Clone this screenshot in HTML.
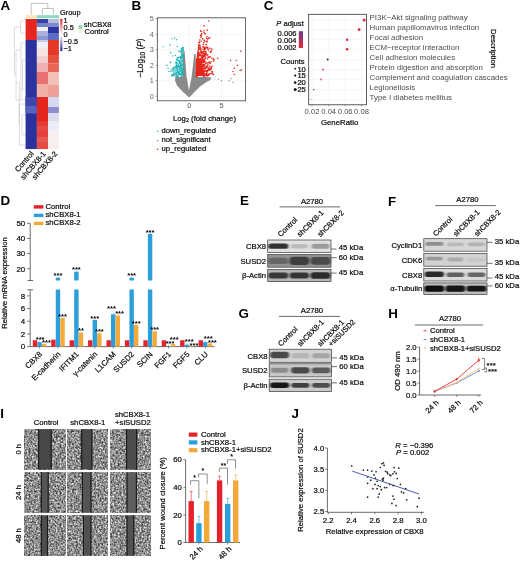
<!DOCTYPE html>
<html><head><meta charset="utf-8"><title>Figure</title>
<style>
html,body{margin:0;padding:0;background:#fff;}
svg{display:block;font-family:"Liberation Sans",Arial,Helvetica,sans-serif;}
</style></head><body>
<svg width="520" height="561" viewBox="0 0 520 561">
<rect width="520" height="561" fill="#fff"/>
<text x="0.6" y="10.4" font-size="13.4" fill="#000" font-weight="bold">A</text>
<polyline points="31.2,14.6 31.2,3.4 47.8,3.4 47.8,8.5" fill="none" stroke="#9a9a9a" stroke-width="0.6"/>
<polyline points="42.4,14.6 42.4,8.5 53.4,8.5 53.4,14.6" fill="none" stroke="#9a9a9a" stroke-width="0.6"/>
<rect x="25.6" y="15.2" width="11.2" height="3" fill="#fbe8b4"/>
<rect x="36.8" y="15.2" width="22.1" height="3" fill="#8fd7bd"/>
<rect x="25.6" y="19" width="11.3" height="21.05" fill="#e5251f"/>
<rect x="25.6" y="40" width="11.3" height="109.05" fill="#2a319c"/>
<rect x="36.8" y="19" width="11.3" height="4.05" fill="#3842a6"/>
<rect x="36.8" y="23" width="11.3" height="4.05" fill="#7482c9"/>
<rect x="36.8" y="27" width="11.3" height="4.05" fill="#f3f2f8"/>
<rect x="36.8" y="31" width="11.3" height="5.05" fill="#a9b0dc"/>
<rect x="36.8" y="36" width="11.3" height="4.05" fill="#8c97d1"/>
<rect x="36.8" y="40" width="11.3" height="2.05" fill="#c8cbe8"/>
<rect x="36.8" y="42" width="11.3" height="6.05" fill="#f3f0f5"/>
<rect x="36.8" y="48" width="11.3" height="8.05" fill="#f6e4e4"/>
<rect x="36.8" y="56" width="11.3" height="7.05" fill="#f2cfcf"/>
<rect x="36.8" y="63" width="11.3" height="9.05" fill="#eeb0b0"/>
<rect x="36.8" y="72" width="11.3" height="12.05" fill="#e87272"/>
<rect x="36.8" y="84" width="11.3" height="13.05" fill="#f0b0a8"/>
<rect x="36.8" y="97" width="11.3" height="24.05" fill="#e4261f"/>
<rect x="36.8" y="121" width="11.3" height="5.05" fill="#e53a33"/>
<rect x="36.8" y="126" width="11.3" height="5.05" fill="#e64a44"/>
<rect x="36.8" y="131" width="11.3" height="6.05" fill="#e5413a"/>
<rect x="36.8" y="137" width="11.3" height="5.05" fill="#e65a55"/>
<rect x="36.8" y="142" width="11.3" height="7.05" fill="#e54a44"/>
<rect x="48" y="19" width="10.9" height="4.05" fill="#b9bce1"/>
<rect x="48" y="23" width="10.9" height="4.05" fill="#8088c9"/>
<rect x="48" y="27" width="10.9" height="6.05" fill="#2c36a1"/>
<rect x="48" y="33" width="10.9" height="7.05" fill="#5c6cc1"/>
<rect x="48" y="40" width="10.9" height="15.05" fill="#e53828"/>
<rect x="48" y="55" width="10.9" height="8.55" fill="#e65040"/>
<rect x="48" y="63.5" width="10.9" height="8.55" fill="#e86858"/>
<rect x="48" y="72" width="10.9" height="13.05" fill="#f3c0b8"/>
<rect x="48" y="85" width="10.9" height="12.05" fill="#eca098"/>
<rect x="48" y="97" width="10.9" height="10.05" fill="#d6d8f0"/>
<rect x="48" y="107" width="10.9" height="6.05" fill="#8e8ecc"/>
<rect x="48" y="113" width="10.9" height="8.05" fill="#dcdcf0"/>
<rect x="48" y="121" width="10.9" height="9.05" fill="#ececf6"/>
<rect x="48" y="130" width="10.9" height="10.05" fill="#f6f0f2"/>
<rect x="48" y="140" width="10.9" height="9.05" fill="#f8eeee"/>
<rect x="25.6" y="41" width="11.3" height="1.4" fill="#3038a4" opacity="0.5"/>
<rect x="25.6" y="44.2" width="11.3" height="1.4" fill="#3038a4" opacity="0.5"/>
<rect x="25.6" y="47.4" width="11.3" height="1.4" fill="#3038a4" opacity="0.5"/>
<rect x="25.6" y="50.6" width="11.3" height="1.4" fill="#3038a4" opacity="0.5"/>
<rect x="25.6" y="53.8" width="11.3" height="1.4" fill="#3038a4" opacity="0.5"/>
<rect x="25.6" y="57" width="11.3" height="1.4" fill="#3038a4" opacity="0.5"/>
<rect x="25.6" y="60.2" width="11.3" height="1.4" fill="#3038a4" opacity="0.5"/>
<rect x="25.6" y="63.4" width="11.3" height="1.4" fill="#3038a4" opacity="0.5"/>
<rect x="25.6" y="66.6" width="11.3" height="1.4" fill="#3038a4" opacity="0.5"/>
<rect x="25.6" y="69.8" width="11.3" height="1.4" fill="#3038a4" opacity="0.5"/>
<rect x="25.6" y="73" width="11.3" height="1.4" fill="#3038a4" opacity="0.5"/>
<rect x="25.6" y="76.2" width="11.3" height="1.4" fill="#3038a4" opacity="0.5"/>
<rect x="25.6" y="79.4" width="11.3" height="1.4" fill="#3038a4" opacity="0.5"/>
<rect x="25.6" y="82.6" width="11.3" height="1.4" fill="#3038a4" opacity="0.5"/>
<rect x="25.6" y="85.8" width="11.3" height="1.4" fill="#3038a4" opacity="0.5"/>
<rect x="25.6" y="89" width="11.3" height="1.4" fill="#3038a4" opacity="0.5"/>
<rect x="25.6" y="92.2" width="11.3" height="1.4" fill="#3038a4" opacity="0.5"/>
<rect x="25.6" y="95.4" width="11.3" height="1.4" fill="#3038a4" opacity="0.5"/>
<rect x="25.6" y="98.6" width="11.3" height="1.4" fill="#3038a4" opacity="0.5"/>
<rect x="25.6" y="101.8" width="11.3" height="1.4" fill="#3038a4" opacity="0.5"/>
<rect x="25.6" y="105" width="11.3" height="1.4" fill="#3038a4" opacity="0.5"/>
<rect x="25.6" y="108.2" width="11.3" height="1.4" fill="#3038a4" opacity="0.5"/>
<rect x="25.6" y="111.4" width="11.3" height="1.4" fill="#3038a4" opacity="0.5"/>
<rect x="25.6" y="114.6" width="11.3" height="1.4" fill="#3038a4" opacity="0.5"/>
<rect x="25.6" y="117.8" width="11.3" height="1.4" fill="#3038a4" opacity="0.5"/>
<rect x="25.6" y="121" width="11.3" height="1.4" fill="#3038a4" opacity="0.5"/>
<rect x="25.6" y="124.2" width="11.3" height="1.4" fill="#3038a4" opacity="0.5"/>
<rect x="25.6" y="127.4" width="11.3" height="1.4" fill="#3038a4" opacity="0.5"/>
<rect x="25.6" y="130.6" width="11.3" height="1.4" fill="#3038a4" opacity="0.5"/>
<rect x="25.6" y="133.8" width="11.3" height="1.4" fill="#3038a4" opacity="0.5"/>
<rect x="25.6" y="137" width="11.3" height="1.4" fill="#3038a4" opacity="0.5"/>
<rect x="25.6" y="140.2" width="11.3" height="1.4" fill="#3038a4" opacity="0.5"/>
<rect x="25.6" y="143.4" width="11.3" height="1.4" fill="#3038a4" opacity="0.5"/>
<rect x="25.6" y="146.6" width="11.3" height="1.4" fill="#3038a4" opacity="0.5"/>
<rect x="25.4" y="97" width="11.5" height="9" fill="#3d47ac"/>
<rect x="25.4" y="106" width="11.5" height="7.5" fill="#5663bc"/>
<polyline points="25,21 20.5,21 20.5,33 25,33" fill="none" stroke="#b8b8b8" stroke-width="0.5"/>
<polyline points="20.5,27 14.4,27 14.4,74.4 16,74.4" fill="none" stroke="#b8b8b8" stroke-width="0.5"/>
<polyline points="25,43 21,43 21,100 25,100" fill="none" stroke="#b8b8b8" stroke-width="0.5"/>
<polyline points="21,50 16,50 16,100 21,100" fill="none" stroke="#b8b8b8" stroke-width="0.5"/>
<polyline points="25,60 22.5,60 22.5,90 25,90" fill="none" stroke="#b8b8b8" stroke-width="0.5"/>
<polyline points="25,104 19.3,104 19.3,145 25,145" fill="none" stroke="#b8b8b8" stroke-width="0.5"/>
<polyline points="16,83 19.3,83 19.3,125" fill="none" stroke="#b8b8b8" stroke-width="0.5"/>
<polyline points="25,115 22,115 22,135 25,135" fill="none" stroke="#b8b8b8" stroke-width="0.5"/>
<defs><linearGradient id="cb" x1="0" y1="0" x2="0" y2="1"><stop offset="0" stop-color="#d8262a"/><stop offset="0.5" stop-color="#ffffff"/><stop offset="1" stop-color="#24288f"/></linearGradient><linearGradient id="cbp" x1="0" y1="0" x2="0" y2="1"><stop offset="0" stop-color="#6a3d8a"/><stop offset="1" stop-color="#e8283a"/></linearGradient></defs>
<rect x="60.2" y="18.8" width="2.2" height="32.2" fill="url(#cb)"/>
<text x="60" y="15.4" font-size="7.4" stroke="#1a1a1a" stroke-width="0.22">Group</text>
<text x="63.6" y="22.7" font-size="7.3" stroke="#1a1a1a" stroke-width="0.22">1</text>
<text x="63.6" y="29.9" font-size="7.3" stroke="#1a1a1a" stroke-width="0.22">0.5</text>
<text x="63.6" y="36.9" font-size="7.3" stroke="#1a1a1a" stroke-width="0.22">0</text>
<text x="63.6" y="44.1" font-size="7.3" stroke="#1a1a1a" stroke-width="0.22">−0.5</text>
<text x="63.6" y="51.3" font-size="7.3" stroke="#1a1a1a" stroke-width="0.22">−1</text>
<rect x="78.5" y="25" width="3.9" height="4" fill="#8fd7bd"/>
<rect x="78.5" y="29" width="3.9" height="4" fill="#fbe8b4" opacity="0.6"/>
<text x="83.8" y="27.4" font-size="7.5" stroke="#1a1a1a" stroke-width="0.22">shCBX8</text>
<text x="84.6" y="34.4" font-size="7.5" stroke="#1a1a1a" stroke-width="0.22">Control</text>
<text x="34.2" y="154" font-size="7.6" text-anchor="end" stroke="#1a1a1a" stroke-width="0.22" transform="rotate(-49 34.2 154)">Control</text>
<text x="46.4" y="154" font-size="7.6" text-anchor="end" stroke="#1a1a1a" stroke-width="0.22" transform="rotate(-49 46.4 154)">shCBX8-1</text>
<text x="57.9" y="154" font-size="7.6" text-anchor="end" stroke="#1a1a1a" stroke-width="0.22" transform="rotate(-49 57.9 154)">shCBX8-2</text>
<text x="131.6" y="10.4" font-size="13.4" fill="#000" font-weight="bold">B</text>
<line x1="157.3" y1="96.2" x2="245.6" y2="96.2" stroke="#ececec" stroke-width="0.4"/>
<line x1="157.3" y1="80.7" x2="245.6" y2="80.7" stroke="#ececec" stroke-width="0.4"/>
<line x1="157.3" y1="65.2" x2="245.6" y2="65.2" stroke="#ececec" stroke-width="0.4"/>
<line x1="157.3" y1="49.7" x2="245.6" y2="49.7" stroke="#ececec" stroke-width="0.4"/>
<line x1="157.3" y1="34.2" x2="245.6" y2="34.2" stroke="#ececec" stroke-width="0.4"/>
<line x1="157.3" y1="18.7" x2="245.6" y2="18.7" stroke="#ececec" stroke-width="0.4"/>
<line x1="157.3" y1="17.8" x2="157.3" y2="100.8" stroke="#ececec" stroke-width="0.4"/>
<line x1="189.4" y1="17.8" x2="189.4" y2="100.8" stroke="#ececec" stroke-width="0.4"/>
<line x1="221.5" y1="17.8" x2="221.5" y2="100.8" stroke="#ececec" stroke-width="0.4"/>
<polygon points="189.2,97.6 183,92 177,85.5 175,80.5 175.3,77 182.5,77 182.5,56 183.3,51.2 184.6,51 186.6,77 189,90.5 191.6,77 194.3,54 195.8,54 195.8,77 206,77 211.5,77.6 210.3,80 206.5,82 200,86.5 195,91.5" fill="#8a8a8a"/>
<circle cx="176.13" cy="73.92" r="0.75" fill="#1fb3b8"/>
<circle cx="179.46" cy="61.04" r="0.75" fill="#1fb3b8"/>
<circle cx="183.31" cy="70.78" r="0.75" fill="#1fb3b8"/>
<circle cx="176.07" cy="76.67" r="0.75" fill="#1fb3b8"/>
<circle cx="180.1" cy="51.63" r="0.75" fill="#1fb3b8"/>
<circle cx="181.08" cy="62.29" r="0.75" fill="#1fb3b8"/>
<circle cx="180.43" cy="66.19" r="0.75" fill="#1fb3b8"/>
<circle cx="173.85" cy="73.14" r="0.75" fill="#1fb3b8"/>
<circle cx="180.96" cy="66.87" r="0.75" fill="#1fb3b8"/>
<circle cx="181.54" cy="64.09" r="0.75" fill="#1fb3b8"/>
<circle cx="176.45" cy="64.09" r="0.75" fill="#1fb3b8"/>
<circle cx="181" cy="61.03" r="0.75" fill="#1fb3b8"/>
<circle cx="173.95" cy="68.78" r="0.75" fill="#1fb3b8"/>
<circle cx="171.99" cy="74.68" r="0.75" fill="#1fb3b8"/>
<circle cx="177.91" cy="65.89" r="0.75" fill="#1fb3b8"/>
<circle cx="182.85" cy="56.98" r="0.75" fill="#1fb3b8"/>
<circle cx="175.54" cy="66.78" r="0.75" fill="#1fb3b8"/>
<circle cx="182.65" cy="60.98" r="0.75" fill="#1fb3b8"/>
<circle cx="176.19" cy="66.06" r="0.75" fill="#1fb3b8"/>
<circle cx="179.82" cy="68.9" r="0.75" fill="#1fb3b8"/>
<circle cx="181.03" cy="62.7" r="0.75" fill="#1fb3b8"/>
<circle cx="181.76" cy="48.4" r="0.75" fill="#1fb3b8"/>
<circle cx="181.12" cy="52.92" r="0.75" fill="#1fb3b8"/>
<circle cx="176.39" cy="65.28" r="0.75" fill="#1fb3b8"/>
<circle cx="180.83" cy="73.79" r="0.75" fill="#1fb3b8"/>
<circle cx="178.81" cy="50.93" r="0.75" fill="#1fb3b8"/>
<circle cx="181.15" cy="58.26" r="0.75" fill="#1fb3b8"/>
<circle cx="179.06" cy="71.77" r="0.75" fill="#1fb3b8"/>
<circle cx="177.08" cy="58.12" r="0.75" fill="#1fb3b8"/>
<circle cx="174.06" cy="69.72" r="0.75" fill="#1fb3b8"/>
<circle cx="181.39" cy="50.77" r="0.75" fill="#1fb3b8"/>
<circle cx="179.51" cy="66.34" r="0.75" fill="#1fb3b8"/>
<circle cx="177.99" cy="76.9" r="0.75" fill="#1fb3b8"/>
<circle cx="182.22" cy="72.29" r="0.75" fill="#1fb3b8"/>
<circle cx="177.99" cy="60.34" r="0.75" fill="#1fb3b8"/>
<circle cx="181.84" cy="58.62" r="0.75" fill="#1fb3b8"/>
<circle cx="181.86" cy="50.7" r="0.75" fill="#1fb3b8"/>
<circle cx="183.16" cy="50.5" r="0.75" fill="#1fb3b8"/>
<circle cx="181.78" cy="54.4" r="0.75" fill="#1fb3b8"/>
<circle cx="179.34" cy="73.2" r="0.75" fill="#1fb3b8"/>
<circle cx="183" cy="75.25" r="0.75" fill="#1fb3b8"/>
<circle cx="181.09" cy="69.83" r="0.75" fill="#1fb3b8"/>
<circle cx="180.08" cy="69.83" r="0.75" fill="#1fb3b8"/>
<circle cx="177.73" cy="72.49" r="0.75" fill="#1fb3b8"/>
<circle cx="177.22" cy="69.07" r="0.75" fill="#1fb3b8"/>
<circle cx="175.16" cy="71.11" r="0.75" fill="#1fb3b8"/>
<circle cx="179.55" cy="68.09" r="0.75" fill="#1fb3b8"/>
<circle cx="176.49" cy="75.52" r="0.75" fill="#1fb3b8"/>
<circle cx="180.2" cy="57.05" r="0.75" fill="#1fb3b8"/>
<circle cx="182.59" cy="61.06" r="0.75" fill="#1fb3b8"/>
<circle cx="174.83" cy="74.96" r="0.75" fill="#1fb3b8"/>
<circle cx="177.15" cy="66.25" r="0.75" fill="#1fb3b8"/>
<circle cx="172.68" cy="68.39" r="0.75" fill="#1fb3b8"/>
<circle cx="183.38" cy="57.58" r="0.75" fill="#1fb3b8"/>
<circle cx="182.39" cy="73.67" r="0.75" fill="#1fb3b8"/>
<circle cx="173.58" cy="67.57" r="0.75" fill="#1fb3b8"/>
<circle cx="180.81" cy="56.39" r="0.75" fill="#1fb3b8"/>
<circle cx="180.06" cy="61.21" r="0.75" fill="#1fb3b8"/>
<circle cx="178.9" cy="60.74" r="0.75" fill="#1fb3b8"/>
<circle cx="177.71" cy="70.12" r="0.75" fill="#1fb3b8"/>
<circle cx="182.66" cy="55.67" r="0.75" fill="#1fb3b8"/>
<circle cx="178.56" cy="57.32" r="0.75" fill="#1fb3b8"/>
<circle cx="182.66" cy="47.77" r="0.75" fill="#1fb3b8"/>
<circle cx="175.65" cy="70.17" r="0.75" fill="#1fb3b8"/>
<circle cx="182.5" cy="73.59" r="0.75" fill="#1fb3b8"/>
<circle cx="180.12" cy="74.45" r="0.75" fill="#1fb3b8"/>
<circle cx="183.2" cy="65.36" r="0.75" fill="#1fb3b8"/>
<circle cx="176.92" cy="67.35" r="0.75" fill="#1fb3b8"/>
<circle cx="182.48" cy="65.24" r="0.75" fill="#1fb3b8"/>
<circle cx="170.51" cy="62.39" r="0.75" fill="#1fb3b8"/>
<circle cx="178.05" cy="67.82" r="0.75" fill="#1fb3b8"/>
<circle cx="182" cy="55.35" r="0.75" fill="#1fb3b8"/>
<circle cx="181.43" cy="67.41" r="0.75" fill="#1fb3b8"/>
<circle cx="180.56" cy="59.1" r="0.75" fill="#1fb3b8"/>
<circle cx="178.7" cy="66.07" r="0.75" fill="#1fb3b8"/>
<circle cx="177.55" cy="58.62" r="0.75" fill="#1fb3b8"/>
<circle cx="182.68" cy="68.41" r="0.75" fill="#1fb3b8"/>
<circle cx="178.33" cy="74.68" r="0.75" fill="#1fb3b8"/>
<circle cx="173.2" cy="71.14" r="0.75" fill="#1fb3b8"/>
<circle cx="175.54" cy="72.96" r="0.75" fill="#1fb3b8"/>
<circle cx="171.16" cy="69.8" r="0.75" fill="#1fb3b8"/>
<circle cx="172.79" cy="76.06" r="0.75" fill="#1fb3b8"/>
<circle cx="179.57" cy="63.51" r="0.75" fill="#1fb3b8"/>
<circle cx="180.47" cy="74.31" r="0.75" fill="#1fb3b8"/>
<circle cx="173.11" cy="74.65" r="0.75" fill="#1fb3b8"/>
<circle cx="178.46" cy="60.13" r="0.75" fill="#1fb3b8"/>
<circle cx="175.38" cy="55.43" r="0.75" fill="#1fb3b8"/>
<circle cx="181.21" cy="74.54" r="0.75" fill="#1fb3b8"/>
<circle cx="182.15" cy="51.38" r="0.75" fill="#1fb3b8"/>
<circle cx="177.17" cy="76.92" r="0.75" fill="#1fb3b8"/>
<circle cx="179.2" cy="73.75" r="0.75" fill="#1fb3b8"/>
<circle cx="183.24" cy="54.98" r="0.75" fill="#1fb3b8"/>
<circle cx="182.81" cy="53.07" r="0.75" fill="#1fb3b8"/>
<circle cx="175.67" cy="68.07" r="0.75" fill="#1fb3b8"/>
<circle cx="181.98" cy="60.06" r="0.75" fill="#1fb3b8"/>
<circle cx="167.97" cy="68.25" r="0.75" fill="#1fb3b8"/>
<circle cx="182.47" cy="71.51" r="0.75" fill="#1fb3b8"/>
<circle cx="176.43" cy="62.56" r="0.75" fill="#1fb3b8"/>
<circle cx="181.28" cy="49.01" r="0.75" fill="#1fb3b8"/>
<circle cx="177.45" cy="71.36" r="0.75" fill="#1fb3b8"/>
<circle cx="179.26" cy="60.57" r="0.75" fill="#1fb3b8"/>
<circle cx="170.04" cy="62.15" r="0.75" fill="#1fb3b8"/>
<circle cx="183.21" cy="64.37" r="0.75" fill="#1fb3b8"/>
<circle cx="180.18" cy="65.71" r="0.75" fill="#1fb3b8"/>
<circle cx="178.16" cy="64.28" r="0.75" fill="#1fb3b8"/>
<circle cx="183.03" cy="73.68" r="0.75" fill="#1fb3b8"/>
<circle cx="176.07" cy="62.64" r="0.75" fill="#1fb3b8"/>
<circle cx="172.99" cy="74.13" r="0.75" fill="#1fb3b8"/>
<circle cx="183.22" cy="47.87" r="0.75" fill="#1fb3b8"/>
<circle cx="182.6" cy="47.45" r="0.75" fill="#1fb3b8"/>
<circle cx="179.73" cy="71.13" r="0.75" fill="#1fb3b8"/>
<circle cx="174.02" cy="73.2" r="0.75" fill="#1fb3b8"/>
<circle cx="182.15" cy="75.44" r="0.75" fill="#1fb3b8"/>
<circle cx="182.17" cy="56.87" r="0.75" fill="#1fb3b8"/>
<circle cx="172.92" cy="70.09" r="0.75" fill="#1fb3b8"/>
<circle cx="180.95" cy="64.46" r="0.75" fill="#1fb3b8"/>
<circle cx="181.23" cy="70.61" r="0.75" fill="#1fb3b8"/>
<circle cx="179.87" cy="63.5" r="0.75" fill="#1fb3b8"/>
<circle cx="181.08" cy="64.94" r="0.75" fill="#1fb3b8"/>
<circle cx="181.2" cy="68.18" r="0.75" fill="#1fb3b8"/>
<circle cx="182.69" cy="55.47" r="0.75" fill="#1fb3b8"/>
<circle cx="180.44" cy="65.28" r="0.75" fill="#1fb3b8"/>
<circle cx="181.76" cy="71.03" r="0.75" fill="#1fb3b8"/>
<circle cx="183.2" cy="49.61" r="0.75" fill="#1fb3b8"/>
<circle cx="173.91" cy="74.43" r="0.75" fill="#1fb3b8"/>
<circle cx="181.99" cy="49.54" r="0.75" fill="#1fb3b8"/>
<circle cx="181.46" cy="73.81" r="0.75" fill="#1fb3b8"/>
<circle cx="182.17" cy="54.68" r="0.75" fill="#1fb3b8"/>
<circle cx="181.79" cy="76.03" r="0.75" fill="#1fb3b8"/>
<circle cx="177.89" cy="72.89" r="0.75" fill="#1fb3b8"/>
<circle cx="180.33" cy="57.75" r="0.75" fill="#1fb3b8"/>
<circle cx="183.32" cy="63.79" r="0.75" fill="#1fb3b8"/>
<circle cx="174.12" cy="75.44" r="0.75" fill="#1fb3b8"/>
<circle cx="183.39" cy="74.36" r="0.75" fill="#1fb3b8"/>
<circle cx="181.76" cy="52.57" r="0.75" fill="#1fb3b8"/>
<circle cx="181.27" cy="64.94" r="0.75" fill="#1fb3b8"/>
<circle cx="177.03" cy="68.99" r="0.75" fill="#1fb3b8"/>
<circle cx="176.75" cy="65.5" r="0.75" fill="#1fb3b8"/>
<circle cx="177.94" cy="75.12" r="0.75" fill="#1fb3b8"/>
<circle cx="178.29" cy="57.42" r="0.75" fill="#1fb3b8"/>
<circle cx="177.72" cy="76.18" r="0.75" fill="#1fb3b8"/>
<circle cx="183.2" cy="67.62" r="0.75" fill="#1fb3b8"/>
<circle cx="180.45" cy="57.32" r="0.75" fill="#1fb3b8"/>
<circle cx="181.5" cy="57.77" r="0.75" fill="#1fb3b8"/>
<circle cx="176.92" cy="70.88" r="0.75" fill="#1fb3b8"/>
<circle cx="176.32" cy="73.11" r="0.75" fill="#1fb3b8"/>
<circle cx="173.87" cy="67.44" r="0.75" fill="#1fb3b8"/>
<circle cx="176.08" cy="74.65" r="0.75" fill="#1fb3b8"/>
<circle cx="177.47" cy="66.14" r="0.75" fill="#1fb3b8"/>
<circle cx="181.33" cy="57.64" r="0.75" fill="#1fb3b8"/>
<circle cx="181.3" cy="50.67" r="0.75" fill="#1fb3b8"/>
<circle cx="179.94" cy="69.39" r="0.75" fill="#1fb3b8"/>
<circle cx="183.25" cy="65.35" r="0.75" fill="#1fb3b8"/>
<circle cx="180.91" cy="76.53" r="0.75" fill="#1fb3b8"/>
<circle cx="178.37" cy="66.34" r="0.75" fill="#1fb3b8"/>
<circle cx="181.97" cy="56.06" r="0.75" fill="#1fb3b8"/>
<circle cx="176.8" cy="67.19" r="0.75" fill="#1fb3b8"/>
<circle cx="182.34" cy="72.19" r="0.75" fill="#1fb3b8"/>
<circle cx="178.13" cy="69.41" r="0.75" fill="#1fb3b8"/>
<circle cx="177.53" cy="71.9" r="0.75" fill="#1fb3b8"/>
<circle cx="180.52" cy="67.45" r="0.75" fill="#1fb3b8"/>
<circle cx="177.2" cy="76.52" r="0.75" fill="#1fb3b8"/>
<circle cx="171.62" cy="75.51" r="0.75" fill="#1fb3b8"/>
<circle cx="178.7" cy="72.96" r="0.75" fill="#1fb3b8"/>
<circle cx="176.55" cy="59.83" r="0.75" fill="#1fb3b8"/>
<circle cx="183.22" cy="68.63" r="0.75" fill="#1fb3b8"/>
<circle cx="183.21" cy="70.94" r="0.75" fill="#1fb3b8"/>
<circle cx="182.62" cy="69.35" r="0.75" fill="#1fb3b8"/>
<circle cx="180.55" cy="67.96" r="0.75" fill="#1fb3b8"/>
<circle cx="177.12" cy="66.38" r="0.75" fill="#1fb3b8"/>
<circle cx="179.58" cy="74.73" r="0.75" fill="#1fb3b8"/>
<circle cx="176.29" cy="72.93" r="0.75" fill="#1fb3b8"/>
<circle cx="170.61" cy="52.72" r="0.75" fill="#1fb3b8"/>
<circle cx="183.22" cy="49.08" r="0.75" fill="#1fb3b8"/>
<circle cx="179.44" cy="66.84" r="0.75" fill="#1fb3b8"/>
<circle cx="177.34" cy="60.55" r="0.75" fill="#1fb3b8"/>
<circle cx="182.74" cy="61" r="0.75" fill="#1fb3b8"/>
<circle cx="177.92" cy="63.04" r="0.75" fill="#1fb3b8"/>
<circle cx="171.03" cy="71.51" r="0.75" fill="#1fb3b8"/>
<circle cx="179.49" cy="72.88" r="0.75" fill="#1fb3b8"/>
<circle cx="178.88" cy="71.95" r="0.75" fill="#1fb3b8"/>
<circle cx="182.76" cy="68.89" r="0.75" fill="#1fb3b8"/>
<circle cx="181.39" cy="72.65" r="0.75" fill="#1fb3b8"/>
<circle cx="176.2" cy="63.77" r="0.75" fill="#1fb3b8"/>
<circle cx="180.98" cy="69.82" r="0.75" fill="#1fb3b8"/>
<circle cx="176.01" cy="61.92" r="0.75" fill="#1fb3b8"/>
<circle cx="179.43" cy="62.4" r="0.75" fill="#1fb3b8"/>
<circle cx="180.47" cy="71.34" r="0.75" fill="#1fb3b8"/>
<circle cx="176.98" cy="68.63" r="0.75" fill="#1fb3b8"/>
<circle cx="174.31" cy="67.59" r="0.75" fill="#1fb3b8"/>
<circle cx="163.08" cy="46.6" r="0.72" fill="#1fb3b8"/>
<circle cx="166.93" cy="65.2" r="0.72" fill="#1fb3b8"/>
<circle cx="170.14" cy="45.05" r="0.72" fill="#1fb3b8"/>
<circle cx="172.07" cy="38.85" r="0.72" fill="#1fb3b8"/>
<circle cx="174.63" cy="38.08" r="0.72" fill="#1fb3b8"/>
<circle cx="176.56" cy="39.63" r="0.72" fill="#1fb3b8"/>
<circle cx="168.86" cy="71.4" r="0.72" fill="#1fb3b8"/>
<circle cx="172.71" cy="55.9" r="0.72" fill="#1fb3b8"/>
<circle cx="177.2" cy="46.6" r="0.72" fill="#1fb3b8"/>
<polygon points="195.8,76 195.8,60 197.5,56 201,62 204,70 205,76" fill="#e5281c"/>
<circle cx="213.27" cy="58.9" r="0.8" fill="#e5281c"/>
<circle cx="203.79" cy="53.59" r="0.8" fill="#e5281c"/>
<circle cx="202.58" cy="58.69" r="0.8" fill="#e5281c"/>
<circle cx="198.2" cy="57.67" r="0.8" fill="#e5281c"/>
<circle cx="196.79" cy="67.76" r="0.8" fill="#e5281c"/>
<circle cx="201.58" cy="73.35" r="0.8" fill="#e5281c"/>
<circle cx="208.74" cy="69.4" r="0.8" fill="#e5281c"/>
<circle cx="200.85" cy="74.71" r="0.8" fill="#e5281c"/>
<circle cx="203.05" cy="70.47" r="0.8" fill="#e5281c"/>
<circle cx="202.62" cy="59.17" r="0.8" fill="#e5281c"/>
<circle cx="199.74" cy="72.18" r="0.8" fill="#e5281c"/>
<circle cx="203.88" cy="59.19" r="0.8" fill="#e5281c"/>
<circle cx="198.97" cy="65.37" r="0.8" fill="#e5281c"/>
<circle cx="200.16" cy="72.71" r="0.8" fill="#e5281c"/>
<circle cx="200.87" cy="72.23" r="0.8" fill="#e5281c"/>
<circle cx="211.67" cy="71.74" r="0.8" fill="#e5281c"/>
<circle cx="206.97" cy="70.47" r="0.8" fill="#e5281c"/>
<circle cx="200.49" cy="46.96" r="0.8" fill="#e5281c"/>
<circle cx="196.8" cy="74.66" r="0.8" fill="#e5281c"/>
<circle cx="202.6" cy="68.25" r="0.8" fill="#e5281c"/>
<circle cx="199.19" cy="70.91" r="0.8" fill="#e5281c"/>
<circle cx="197.58" cy="67.85" r="0.8" fill="#e5281c"/>
<circle cx="205.61" cy="57.29" r="0.8" fill="#e5281c"/>
<circle cx="198.06" cy="73.12" r="0.8" fill="#e5281c"/>
<circle cx="198.72" cy="64.49" r="0.8" fill="#e5281c"/>
<circle cx="202.25" cy="74.87" r="0.8" fill="#e5281c"/>
<circle cx="204.92" cy="54.73" r="0.8" fill="#e5281c"/>
<circle cx="207.56" cy="59.04" r="0.8" fill="#e5281c"/>
<circle cx="199.31" cy="60.27" r="0.8" fill="#e5281c"/>
<circle cx="207.11" cy="41.16" r="0.8" fill="#e5281c"/>
<circle cx="205.76" cy="67.79" r="0.8" fill="#e5281c"/>
<circle cx="198.33" cy="65.67" r="0.8" fill="#e5281c"/>
<circle cx="199.64" cy="47.45" r="0.8" fill="#e5281c"/>
<circle cx="200.91" cy="67.73" r="0.8" fill="#e5281c"/>
<circle cx="204.73" cy="48.42" r="0.8" fill="#e5281c"/>
<circle cx="203.57" cy="75.81" r="0.8" fill="#e5281c"/>
<circle cx="200.37" cy="64.68" r="0.8" fill="#e5281c"/>
<circle cx="203.48" cy="60.1" r="0.8" fill="#e5281c"/>
<circle cx="202.91" cy="66.99" r="0.8" fill="#e5281c"/>
<circle cx="211.52" cy="51.1" r="0.8" fill="#e5281c"/>
<circle cx="199.55" cy="60.26" r="0.8" fill="#e5281c"/>
<circle cx="198.44" cy="55.24" r="0.8" fill="#e5281c"/>
<circle cx="198.46" cy="54.84" r="0.8" fill="#e5281c"/>
<circle cx="205.41" cy="74.05" r="0.8" fill="#e5281c"/>
<circle cx="206.91" cy="72.73" r="0.8" fill="#e5281c"/>
<circle cx="198.04" cy="60.38" r="0.8" fill="#e5281c"/>
<circle cx="205.93" cy="62.96" r="0.8" fill="#e5281c"/>
<circle cx="198.51" cy="70.46" r="0.8" fill="#e5281c"/>
<circle cx="212.82" cy="73.97" r="0.8" fill="#e5281c"/>
<circle cx="200.81" cy="60.68" r="0.8" fill="#e5281c"/>
<circle cx="200.99" cy="62.7" r="0.8" fill="#e5281c"/>
<circle cx="202.53" cy="38.92" r="0.8" fill="#e5281c"/>
<circle cx="201.15" cy="71.28" r="0.8" fill="#e5281c"/>
<circle cx="202.04" cy="57.4" r="0.8" fill="#e5281c"/>
<circle cx="200.58" cy="30.86" r="0.8" fill="#e5281c"/>
<circle cx="202.21" cy="61.82" r="0.8" fill="#e5281c"/>
<circle cx="197.95" cy="55.45" r="0.8" fill="#e5281c"/>
<circle cx="204.99" cy="41.29" r="0.8" fill="#e5281c"/>
<circle cx="201.24" cy="41.27" r="0.8" fill="#e5281c"/>
<circle cx="204.85" cy="53.72" r="0.8" fill="#e5281c"/>
<circle cx="202.15" cy="52.75" r="0.8" fill="#e5281c"/>
<circle cx="202.5" cy="72.65" r="0.8" fill="#e5281c"/>
<circle cx="206.48" cy="47.47" r="0.8" fill="#e5281c"/>
<circle cx="203.38" cy="62.51" r="0.8" fill="#e5281c"/>
<circle cx="213.38" cy="74.56" r="0.8" fill="#e5281c"/>
<circle cx="200.75" cy="59.97" r="0.8" fill="#e5281c"/>
<circle cx="209.7" cy="66.25" r="0.8" fill="#e5281c"/>
<circle cx="205.2" cy="68.57" r="0.8" fill="#e5281c"/>
<circle cx="206.42" cy="66.11" r="0.8" fill="#e5281c"/>
<circle cx="201.78" cy="55.57" r="0.8" fill="#e5281c"/>
<circle cx="198.75" cy="60.82" r="0.8" fill="#e5281c"/>
<circle cx="198.1" cy="73.84" r="0.8" fill="#e5281c"/>
<circle cx="204.68" cy="61.75" r="0.8" fill="#e5281c"/>
<circle cx="207.87" cy="67.85" r="0.8" fill="#e5281c"/>
<circle cx="202.73" cy="66.86" r="0.8" fill="#e5281c"/>
<circle cx="203.76" cy="64.98" r="0.8" fill="#e5281c"/>
<circle cx="203.15" cy="57.31" r="0.8" fill="#e5281c"/>
<circle cx="204.03" cy="32.54" r="0.8" fill="#e5281c"/>
<circle cx="203.72" cy="61.46" r="0.8" fill="#e5281c"/>
<circle cx="206.03" cy="52.74" r="0.8" fill="#e5281c"/>
<circle cx="198.6" cy="68.59" r="0.8" fill="#e5281c"/>
<circle cx="213.52" cy="60.89" r="0.8" fill="#e5281c"/>
<circle cx="204.93" cy="54.56" r="0.8" fill="#e5281c"/>
<circle cx="201.04" cy="74.55" r="0.8" fill="#e5281c"/>
<circle cx="207.66" cy="38.88" r="0.8" fill="#e5281c"/>
<circle cx="202.45" cy="71.07" r="0.8" fill="#e5281c"/>
<circle cx="199.33" cy="55.74" r="0.8" fill="#e5281c"/>
<circle cx="201.54" cy="53.44" r="0.8" fill="#e5281c"/>
<circle cx="201.7" cy="68.75" r="0.8" fill="#e5281c"/>
<circle cx="210.43" cy="69.66" r="0.8" fill="#e5281c"/>
<circle cx="198.6" cy="59.6" r="0.8" fill="#e5281c"/>
<circle cx="201.48" cy="52.24" r="0.8" fill="#e5281c"/>
<circle cx="204.51" cy="51.75" r="0.8" fill="#e5281c"/>
<circle cx="200.23" cy="63.4" r="0.8" fill="#e5281c"/>
<circle cx="197.18" cy="75.76" r="0.8" fill="#e5281c"/>
<circle cx="203.35" cy="64.6" r="0.8" fill="#e5281c"/>
<circle cx="211.55" cy="67.33" r="0.8" fill="#e5281c"/>
<circle cx="198.93" cy="70.54" r="0.8" fill="#e5281c"/>
<circle cx="198.19" cy="51.31" r="0.8" fill="#e5281c"/>
<circle cx="200.35" cy="72.42" r="0.8" fill="#e5281c"/>
<circle cx="200.83" cy="48.51" r="0.8" fill="#e5281c"/>
<circle cx="204.93" cy="68.79" r="0.8" fill="#e5281c"/>
<circle cx="203.25" cy="74.76" r="0.8" fill="#e5281c"/>
<circle cx="204" cy="55.24" r="0.8" fill="#e5281c"/>
<circle cx="207.84" cy="70.08" r="0.8" fill="#e5281c"/>
<circle cx="204.18" cy="55.49" r="0.8" fill="#e5281c"/>
<circle cx="198.21" cy="53.4" r="0.8" fill="#e5281c"/>
<circle cx="202.34" cy="61.61" r="0.8" fill="#e5281c"/>
<circle cx="199.7" cy="68.04" r="0.8" fill="#e5281c"/>
<circle cx="197.62" cy="71.5" r="0.8" fill="#e5281c"/>
<circle cx="203.45" cy="65.73" r="0.8" fill="#e5281c"/>
<circle cx="209.19" cy="73.91" r="0.8" fill="#e5281c"/>
<circle cx="203.41" cy="74.23" r="0.8" fill="#e5281c"/>
<circle cx="198.2" cy="50.31" r="0.8" fill="#e5281c"/>
<circle cx="201.32" cy="69.66" r="0.8" fill="#e5281c"/>
<circle cx="212.42" cy="71.88" r="0.8" fill="#e5281c"/>
<circle cx="203.02" cy="55.87" r="0.8" fill="#e5281c"/>
<circle cx="198.54" cy="62.52" r="0.8" fill="#e5281c"/>
<circle cx="209.7" cy="62.02" r="0.8" fill="#e5281c"/>
<circle cx="200.47" cy="69.95" r="0.8" fill="#e5281c"/>
<circle cx="203.69" cy="75.66" r="0.8" fill="#e5281c"/>
<circle cx="200.43" cy="65.16" r="0.8" fill="#e5281c"/>
<circle cx="199.2" cy="49.08" r="0.8" fill="#e5281c"/>
<circle cx="207.22" cy="70.69" r="0.8" fill="#e5281c"/>
<circle cx="203.65" cy="47.63" r="0.8" fill="#e5281c"/>
<circle cx="199.83" cy="59.69" r="0.8" fill="#e5281c"/>
<circle cx="197.68" cy="74.79" r="0.8" fill="#e5281c"/>
<circle cx="196.48" cy="76.02" r="0.8" fill="#e5281c"/>
<circle cx="204.4" cy="73.55" r="0.8" fill="#e5281c"/>
<circle cx="197" cy="70.48" r="0.8" fill="#e5281c"/>
<circle cx="198.45" cy="58.02" r="0.8" fill="#e5281c"/>
<circle cx="199.69" cy="75" r="0.8" fill="#e5281c"/>
<circle cx="200.18" cy="73.66" r="0.8" fill="#e5281c"/>
<circle cx="200.53" cy="35.67" r="0.8" fill="#e5281c"/>
<circle cx="206.06" cy="66.98" r="0.8" fill="#e5281c"/>
<circle cx="198.31" cy="74.3" r="0.8" fill="#e5281c"/>
<circle cx="198.16" cy="69.89" r="0.8" fill="#e5281c"/>
<circle cx="206.69" cy="75.67" r="0.8" fill="#e5281c"/>
<circle cx="211.99" cy="58.28" r="0.8" fill="#e5281c"/>
<circle cx="201.17" cy="55.86" r="0.8" fill="#e5281c"/>
<circle cx="209.82" cy="69.39" r="0.8" fill="#e5281c"/>
<circle cx="205.49" cy="53.65" r="0.8" fill="#e5281c"/>
<circle cx="198.49" cy="47.94" r="0.8" fill="#e5281c"/>
<circle cx="196.88" cy="74.01" r="0.8" fill="#e5281c"/>
<circle cx="198.51" cy="62.26" r="0.8" fill="#e5281c"/>
<circle cx="198.79" cy="61.01" r="0.8" fill="#e5281c"/>
<circle cx="199.9" cy="45.5" r="0.8" fill="#e5281c"/>
<circle cx="210.69" cy="73.71" r="0.8" fill="#e5281c"/>
<circle cx="199.04" cy="66.13" r="0.8" fill="#e5281c"/>
<circle cx="203.15" cy="73.1" r="0.8" fill="#e5281c"/>
<circle cx="203.83" cy="62.01" r="0.8" fill="#e5281c"/>
<circle cx="196.58" cy="72.8" r="0.8" fill="#e5281c"/>
<circle cx="198.67" cy="71.08" r="0.8" fill="#e5281c"/>
<circle cx="207.79" cy="64.05" r="0.8" fill="#e5281c"/>
<circle cx="198.04" cy="72.95" r="0.8" fill="#e5281c"/>
<circle cx="203.41" cy="51.5" r="0.8" fill="#e5281c"/>
<circle cx="204.23" cy="60.31" r="0.8" fill="#e5281c"/>
<circle cx="207.74" cy="47.46" r="0.8" fill="#e5281c"/>
<circle cx="201.51" cy="52.26" r="0.8" fill="#e5281c"/>
<circle cx="200.73" cy="66.01" r="0.8" fill="#e5281c"/>
<circle cx="208.02" cy="75.42" r="0.8" fill="#e5281c"/>
<circle cx="205.68" cy="51.66" r="0.8" fill="#e5281c"/>
<circle cx="202.88" cy="62.28" r="0.8" fill="#e5281c"/>
<circle cx="202.09" cy="69.26" r="0.8" fill="#e5281c"/>
<circle cx="209.28" cy="62.95" r="0.8" fill="#e5281c"/>
<circle cx="204.32" cy="75.97" r="0.8" fill="#e5281c"/>
<circle cx="201.32" cy="66.39" r="0.8" fill="#e5281c"/>
<circle cx="209.91" cy="48.4" r="0.8" fill="#e5281c"/>
<circle cx="199.97" cy="74.25" r="0.8" fill="#e5281c"/>
<circle cx="205.69" cy="71.02" r="0.8" fill="#e5281c"/>
<circle cx="201" cy="73.79" r="0.8" fill="#e5281c"/>
<circle cx="205.5" cy="58.58" r="0.8" fill="#e5281c"/>
<circle cx="198.64" cy="69.16" r="0.8" fill="#e5281c"/>
<circle cx="201.89" cy="65.18" r="0.8" fill="#e5281c"/>
<circle cx="199.67" cy="48.25" r="0.8" fill="#e5281c"/>
<circle cx="201.88" cy="62.92" r="0.8" fill="#e5281c"/>
<circle cx="208.28" cy="74.62" r="0.8" fill="#e5281c"/>
<circle cx="201.35" cy="68.45" r="0.8" fill="#e5281c"/>
<circle cx="197.67" cy="53.55" r="0.8" fill="#e5281c"/>
<circle cx="205.91" cy="53.86" r="0.8" fill="#e5281c"/>
<circle cx="203.88" cy="56.37" r="0.8" fill="#e5281c"/>
<circle cx="209.02" cy="70.07" r="0.8" fill="#e5281c"/>
<circle cx="205.43" cy="63.8" r="0.8" fill="#e5281c"/>
<circle cx="197.28" cy="76.03" r="0.8" fill="#e5281c"/>
<circle cx="199.08" cy="45.24" r="0.8" fill="#e5281c"/>
<circle cx="203.07" cy="49.4" r="0.8" fill="#e5281c"/>
<circle cx="204.67" cy="48.74" r="0.8" fill="#e5281c"/>
<circle cx="198.52" cy="62.87" r="0.8" fill="#e5281c"/>
<circle cx="214.08" cy="59.76" r="0.8" fill="#e5281c"/>
<circle cx="197.02" cy="66.45" r="0.8" fill="#e5281c"/>
<circle cx="212.1" cy="73.25" r="0.8" fill="#e5281c"/>
<circle cx="201.62" cy="74.01" r="0.8" fill="#e5281c"/>
<circle cx="203.83" cy="60.7" r="0.8" fill="#e5281c"/>
<circle cx="198.8" cy="64.88" r="0.8" fill="#e5281c"/>
<circle cx="199.29" cy="42.42" r="0.8" fill="#e5281c"/>
<circle cx="202.44" cy="59.87" r="0.8" fill="#e5281c"/>
<circle cx="199.89" cy="66.29" r="0.8" fill="#e5281c"/>
<circle cx="207.04" cy="75.66" r="0.8" fill="#e5281c"/>
<circle cx="210.11" cy="56.88" r="0.8" fill="#e5281c"/>
<circle cx="198.47" cy="65.6" r="0.8" fill="#e5281c"/>
<circle cx="207" cy="62.68" r="0.8" fill="#e5281c"/>
<circle cx="201.51" cy="52.08" r="0.8" fill="#e5281c"/>
<circle cx="196.67" cy="75.63" r="0.8" fill="#e5281c"/>
<circle cx="200.89" cy="55.68" r="0.8" fill="#e5281c"/>
<circle cx="206.48" cy="38.34" r="0.8" fill="#e5281c"/>
<circle cx="206.16" cy="44.66" r="0.8" fill="#e5281c"/>
<circle cx="200.44" cy="68.71" r="0.8" fill="#e5281c"/>
<circle cx="204.73" cy="55.04" r="0.8" fill="#e5281c"/>
<circle cx="209.15" cy="57.23" r="0.8" fill="#e5281c"/>
<circle cx="198.12" cy="54.86" r="0.8" fill="#e5281c"/>
<circle cx="200.21" cy="65.12" r="0.8" fill="#e5281c"/>
<circle cx="205.46" cy="33.82" r="0.8" fill="#e5281c"/>
<circle cx="201.45" cy="31.56" r="0.8" fill="#e5281c"/>
<circle cx="196.79" cy="73.24" r="0.8" fill="#e5281c"/>
<circle cx="210.58" cy="69.22" r="0.8" fill="#e5281c"/>
<circle cx="208.04" cy="74.78" r="0.8" fill="#e5281c"/>
<circle cx="203.83" cy="65.61" r="0.8" fill="#e5281c"/>
<circle cx="198.1" cy="74.49" r="0.8" fill="#e5281c"/>
<circle cx="205.17" cy="48.13" r="0.8" fill="#e5281c"/>
<circle cx="204.84" cy="56.82" r="0.8" fill="#e5281c"/>
<circle cx="197.56" cy="66.52" r="0.8" fill="#e5281c"/>
<circle cx="201.54" cy="70.27" r="0.8" fill="#e5281c"/>
<circle cx="203.46" cy="64.82" r="0.8" fill="#e5281c"/>
<circle cx="201.7" cy="72.96" r="0.8" fill="#e5281c"/>
<circle cx="199.02" cy="52.64" r="0.8" fill="#e5281c"/>
<circle cx="204.04" cy="25.9" r="0.8" fill="#e5281c"/>
<circle cx="199.81" cy="74.55" r="0.8" fill="#e5281c"/>
<circle cx="197.75" cy="68.98" r="0.8" fill="#e5281c"/>
<circle cx="200.79" cy="50.11" r="0.8" fill="#e5281c"/>
<circle cx="203.43" cy="44.38" r="0.8" fill="#e5281c"/>
<circle cx="203" cy="70.47" r="0.8" fill="#e5281c"/>
<circle cx="204.75" cy="61.68" r="0.8" fill="#e5281c"/>
<circle cx="203.05" cy="61.91" r="0.8" fill="#e5281c"/>
<circle cx="199.38" cy="75.02" r="0.8" fill="#e5281c"/>
<circle cx="204.66" cy="50.02" r="0.8" fill="#e5281c"/>
<circle cx="199.42" cy="63.76" r="0.8" fill="#e5281c"/>
<circle cx="200.12" cy="66.65" r="0.8" fill="#e5281c"/>
<circle cx="207.52" cy="66.22" r="0.8" fill="#e5281c"/>
<circle cx="202.42" cy="64.69" r="0.8" fill="#e5281c"/>
<circle cx="209.63" cy="37.77" r="0.8" fill="#e5281c"/>
<circle cx="205.7" cy="70.79" r="0.8" fill="#e5281c"/>
<circle cx="197.98" cy="56.52" r="0.8" fill="#e5281c"/>
<circle cx="210.22" cy="68.35" r="0.8" fill="#e5281c"/>
<circle cx="201.11" cy="66.09" r="0.8" fill="#e5281c"/>
<circle cx="207.16" cy="47.2" r="0.8" fill="#e5281c"/>
<circle cx="197.91" cy="71.05" r="0.8" fill="#e5281c"/>
<circle cx="201.29" cy="60.19" r="0.8" fill="#e5281c"/>
<circle cx="204.53" cy="65.08" r="0.8" fill="#e5281c"/>
<circle cx="195.87" cy="72.48" r="0.8" fill="#e5281c"/>
<circle cx="206.72" cy="70.69" r="0.8" fill="#e5281c"/>
<circle cx="202.7" cy="72.83" r="0.8" fill="#e5281c"/>
<circle cx="210.19" cy="63.46" r="0.8" fill="#e5281c"/>
<circle cx="206.72" cy="42.06" r="0.8" fill="#e5281c"/>
<circle cx="201.41" cy="60.63" r="0.8" fill="#e5281c"/>
<circle cx="201.1" cy="69.18" r="0.8" fill="#e5281c"/>
<circle cx="202.03" cy="58.43" r="0.8" fill="#e5281c"/>
<circle cx="203.72" cy="53.22" r="0.8" fill="#e5281c"/>
<circle cx="206.51" cy="47.67" r="0.8" fill="#e5281c"/>
<circle cx="203.49" cy="56.88" r="0.8" fill="#e5281c"/>
<circle cx="197.75" cy="53.84" r="0.8" fill="#e5281c"/>
<circle cx="197.95" cy="71.36" r="0.8" fill="#e5281c"/>
<circle cx="201.14" cy="37.15" r="0.8" fill="#e5281c"/>
<circle cx="210.5" cy="68.37" r="0.8" fill="#e5281c"/>
<circle cx="198.37" cy="64.37" r="0.8" fill="#e5281c"/>
<circle cx="197" cy="67.64" r="0.8" fill="#e5281c"/>
<circle cx="201.16" cy="35.1" r="0.8" fill="#e5281c"/>
<circle cx="207.21" cy="30.14" r="0.8" fill="#e5281c"/>
<circle cx="203.38" cy="55.62" r="0.8" fill="#e5281c"/>
<circle cx="206.67" cy="73.66" r="0.8" fill="#e5281c"/>
<circle cx="202.08" cy="64.22" r="0.8" fill="#e5281c"/>
<circle cx="203.27" cy="59.85" r="0.8" fill="#e5281c"/>
<circle cx="197.04" cy="74.24" r="0.8" fill="#e5281c"/>
<circle cx="201.25" cy="61.54" r="0.8" fill="#e5281c"/>
<circle cx="210.35" cy="51.67" r="0.8" fill="#e5281c"/>
<circle cx="203.91" cy="59.75" r="0.8" fill="#e5281c"/>
<circle cx="205.06" cy="33.7" r="0.8" fill="#e5281c"/>
<circle cx="198.38" cy="61.6" r="0.8" fill="#e5281c"/>
<circle cx="199.12" cy="54.59" r="0.8" fill="#e5281c"/>
<circle cx="202.84" cy="46.77" r="0.8" fill="#e5281c"/>
<circle cx="206.73" cy="74.64" r="0.8" fill="#e5281c"/>
<circle cx="200.8" cy="60.94" r="0.8" fill="#e5281c"/>
<circle cx="207.79" cy="54.86" r="0.8" fill="#e5281c"/>
<circle cx="204.92" cy="68.49" r="0.8" fill="#e5281c"/>
<circle cx="201.73" cy="73.98" r="0.8" fill="#e5281c"/>
<circle cx="197.47" cy="56.15" r="0.8" fill="#e5281c"/>
<circle cx="208.13" cy="57.07" r="0.8" fill="#e5281c"/>
<circle cx="207.01" cy="36.5" r="0.8" fill="#e5281c"/>
<circle cx="200.83" cy="52.15" r="0.8" fill="#e5281c"/>
<circle cx="199.8" cy="74.5" r="0.8" fill="#e5281c"/>
<circle cx="198" cy="54.26" r="0.8" fill="#e5281c"/>
<circle cx="203.45" cy="74.09" r="0.8" fill="#e5281c"/>
<circle cx="198.29" cy="54.62" r="0.8" fill="#e5281c"/>
<circle cx="198.8" cy="70.74" r="0.8" fill="#e5281c"/>
<circle cx="203.69" cy="75.95" r="0.8" fill="#e5281c"/>
<circle cx="198.13" cy="73.48" r="0.8" fill="#e5281c"/>
<circle cx="197.14" cy="62.59" r="0.8" fill="#e5281c"/>
<circle cx="198.92" cy="60.95" r="0.8" fill="#e5281c"/>
<circle cx="200.8" cy="50.13" r="0.8" fill="#e5281c"/>
<circle cx="208.86" cy="68.13" r="0.8" fill="#e5281c"/>
<circle cx="199.01" cy="72.59" r="0.8" fill="#e5281c"/>
<circle cx="199.3" cy="65.71" r="0.8" fill="#e5281c"/>
<circle cx="201.85" cy="72.46" r="0.8" fill="#e5281c"/>
<circle cx="204.81" cy="49.16" r="0.8" fill="#e5281c"/>
<circle cx="203.5" cy="64.48" r="0.8" fill="#e5281c"/>
<circle cx="202.22" cy="61.24" r="0.8" fill="#e5281c"/>
<circle cx="204.49" cy="71.66" r="0.8" fill="#e5281c"/>
<circle cx="202.01" cy="68.53" r="0.8" fill="#e5281c"/>
<circle cx="201.72" cy="72.18" r="0.8" fill="#e5281c"/>
<circle cx="197.17" cy="75.33" r="0.8" fill="#e5281c"/>
<circle cx="197.7" cy="53.26" r="0.8" fill="#e5281c"/>
<circle cx="197.93" cy="68.2" r="0.8" fill="#e5281c"/>
<circle cx="197.21" cy="73.37" r="0.8" fill="#e5281c"/>
<circle cx="200.05" cy="64.29" r="0.8" fill="#e5281c"/>
<circle cx="202.94" cy="52.11" r="0.8" fill="#e5281c"/>
<circle cx="197.75" cy="74.6" r="0.8" fill="#e5281c"/>
<circle cx="197.13" cy="66.72" r="0.8" fill="#e5281c"/>
<circle cx="202.19" cy="71.22" r="0.8" fill="#e5281c"/>
<circle cx="201.01" cy="60.33" r="0.8" fill="#e5281c"/>
<circle cx="208.6" cy="70.41" r="0.8" fill="#e5281c"/>
<circle cx="204.2" cy="65.29" r="0.8" fill="#e5281c"/>
<circle cx="198.85" cy="65.03" r="0.8" fill="#e5281c"/>
<circle cx="206.1" cy="67.85" r="0.8" fill="#e5281c"/>
<circle cx="198.84" cy="71.21" r="0.8" fill="#e5281c"/>
<circle cx="204.85" cy="47" r="0.8" fill="#e5281c"/>
<circle cx="198.35" cy="46.71" r="0.8" fill="#e5281c"/>
<circle cx="202.75" cy="52.82" r="0.8" fill="#e5281c"/>
<circle cx="217.61" cy="58.35" r="0.8" fill="#e5281c"/>
<circle cx="200.39" cy="58.49" r="0.8" fill="#e5281c"/>
<circle cx="200.53" cy="64.19" r="0.8" fill="#e5281c"/>
<circle cx="197.47" cy="62.73" r="0.8" fill="#e5281c"/>
<circle cx="206.97" cy="54.59" r="0.8" fill="#e5281c"/>
<circle cx="199.34" cy="48.07" r="0.8" fill="#e5281c"/>
<circle cx="208.29" cy="49.92" r="0.8" fill="#e5281c"/>
<circle cx="201.62" cy="51.9" r="0.8" fill="#e5281c"/>
<circle cx="197.15" cy="71.32" r="0.8" fill="#e5281c"/>
<circle cx="196.44" cy="72.26" r="0.8" fill="#e5281c"/>
<circle cx="199.83" cy="68.09" r="0.8" fill="#e5281c"/>
<circle cx="202.4" cy="71.19" r="0.8" fill="#e5281c"/>
<circle cx="198.08" cy="73.8" r="0.8" fill="#e5281c"/>
<circle cx="199.21" cy="59.65" r="0.8" fill="#e5281c"/>
<circle cx="197.91" cy="70.11" r="0.8" fill="#e5281c"/>
<circle cx="198.84" cy="46.13" r="0.8" fill="#e5281c"/>
<circle cx="202.8" cy="54.73" r="0.8" fill="#e5281c"/>
<circle cx="201.05" cy="67.58" r="0.8" fill="#e5281c"/>
<circle cx="208.58" cy="57.01" r="0.8" fill="#e5281c"/>
<circle cx="199.78" cy="59.51" r="0.8" fill="#e5281c"/>
<circle cx="204.93" cy="61.14" r="0.8" fill="#e5281c"/>
<circle cx="197.67" cy="68.28" r="0.8" fill="#e5281c"/>
<circle cx="199.14" cy="69.9" r="0.8" fill="#e5281c"/>
<circle cx="201.61" cy="75.52" r="0.8" fill="#e5281c"/>
<circle cx="200.3" cy="75.14" r="0.8" fill="#e5281c"/>
<circle cx="199.34" cy="54.15" r="0.8" fill="#e5281c"/>
<circle cx="197.11" cy="69.1" r="0.8" fill="#e5281c"/>
<circle cx="197.81" cy="60.55" r="0.8" fill="#e5281c"/>
<circle cx="198.15" cy="69.26" r="0.8" fill="#e5281c"/>
<circle cx="196.77" cy="61.81" r="0.8" fill="#e5281c"/>
<circle cx="206.49" cy="70.93" r="0.8" fill="#e5281c"/>
<circle cx="201.81" cy="71.65" r="0.8" fill="#e5281c"/>
<circle cx="197.1" cy="64.77" r="0.8" fill="#e5281c"/>
<circle cx="197.56" cy="60.42" r="0.8" fill="#e5281c"/>
<circle cx="210.99" cy="61.81" r="0.8" fill="#e5281c"/>
<circle cx="197.91" cy="52.2" r="0.8" fill="#e5281c"/>
<circle cx="203.67" cy="42.52" r="0.8" fill="#e5281c"/>
<circle cx="204.16" cy="73.68" r="0.8" fill="#e5281c"/>
<circle cx="197.81" cy="72.44" r="0.8" fill="#e5281c"/>
<circle cx="198.15" cy="72.01" r="0.8" fill="#e5281c"/>
<circle cx="201.85" cy="33.66" r="0.8" fill="#e5281c"/>
<circle cx="200.99" cy="35.23" r="0.8" fill="#e5281c"/>
<circle cx="196.34" cy="75.96" r="0.8" fill="#e5281c"/>
<circle cx="208.73" cy="62.18" r="0.8" fill="#e5281c"/>
<circle cx="202.5" cy="74.12" r="0.8" fill="#e5281c"/>
<circle cx="208.67" cy="38.34" r="0.8" fill="#e5281c"/>
<circle cx="205.11" cy="55.16" r="0.8" fill="#e5281c"/>
<circle cx="199.22" cy="67.62" r="0.8" fill="#e5281c"/>
<circle cx="203.02" cy="61.56" r="0.8" fill="#e5281c"/>
<circle cx="200.38" cy="59.39" r="0.8" fill="#e5281c"/>
<circle cx="201.64" cy="74.06" r="0.8" fill="#e5281c"/>
<circle cx="207" cy="54.98" r="0.8" fill="#e5281c"/>
<circle cx="200.27" cy="74.62" r="0.8" fill="#e5281c"/>
<circle cx="201.86" cy="64.86" r="0.8" fill="#e5281c"/>
<circle cx="203.01" cy="74.88" r="0.8" fill="#e5281c"/>
<circle cx="195.95" cy="75.78" r="0.8" fill="#e5281c"/>
<circle cx="201.27" cy="66.55" r="0.8" fill="#e5281c"/>
<circle cx="204.47" cy="66.78" r="0.8" fill="#e5281c"/>
<circle cx="197.01" cy="75.21" r="0.8" fill="#e5281c"/>
<circle cx="199.83" cy="55.59" r="0.8" fill="#e5281c"/>
<circle cx="203.1" cy="68.48" r="0.8" fill="#e5281c"/>
<circle cx="202.57" cy="73.67" r="0.8" fill="#e5281c"/>
<circle cx="205.47" cy="75.51" r="0.8" fill="#e5281c"/>
<circle cx="211.81" cy="49.09" r="0.8" fill="#e5281c"/>
<circle cx="197.35" cy="58.24" r="0.8" fill="#e5281c"/>
<circle cx="212" cy="66.02" r="0.8" fill="#e5281c"/>
<circle cx="207.91" cy="65.04" r="0.8" fill="#e5281c"/>
<circle cx="203.93" cy="30.77" r="0.8" fill="#e5281c"/>
<circle cx="196.33" cy="69.04" r="0.8" fill="#e5281c"/>
<circle cx="199.11" cy="42.33" r="0.8" fill="#e5281c"/>
<circle cx="210.53" cy="52.45" r="0.8" fill="#e5281c"/>
<circle cx="199.18" cy="72.26" r="0.8" fill="#e5281c"/>
<circle cx="204.34" cy="65.45" r="0.8" fill="#e5281c"/>
<circle cx="200.38" cy="61.74" r="0.8" fill="#e5281c"/>
<circle cx="199.75" cy="40.01" r="0.8" fill="#e5281c"/>
<circle cx="211.47" cy="69.01" r="0.8" fill="#e5281c"/>
<circle cx="200.51" cy="69.22" r="0.8" fill="#e5281c"/>
<circle cx="207.84" cy="48.78" r="0.8" fill="#e5281c"/>
<circle cx="199.67" cy="65.58" r="0.8" fill="#e5281c"/>
<circle cx="199.47" cy="66.12" r="0.8" fill="#e5281c"/>
<circle cx="200.45" cy="54.21" r="0.8" fill="#e5281c"/>
<circle cx="197.58" cy="57.06" r="0.8" fill="#e5281c"/>
<circle cx="204.02" cy="66.88" r="0.8" fill="#e5281c"/>
<circle cx="201.26" cy="73.65" r="0.8" fill="#e5281c"/>
<circle cx="202.08" cy="57.4" r="0.8" fill="#e5281c"/>
<circle cx="201.38" cy="64.1" r="0.8" fill="#e5281c"/>
<circle cx="204.77" cy="70.04" r="0.8" fill="#e5281c"/>
<circle cx="198.2" cy="73.56" r="0.8" fill="#e5281c"/>
<circle cx="201.62" cy="67.15" r="0.8" fill="#e5281c"/>
<circle cx="207.37" cy="70.83" r="0.8" fill="#e5281c"/>
<circle cx="208.23" cy="75.18" r="0.8" fill="#e5281c"/>
<circle cx="198.75" cy="58.25" r="0.8" fill="#e5281c"/>
<circle cx="205.88" cy="67.75" r="0.8" fill="#e5281c"/>
<circle cx="203.53" cy="59.56" r="0.8" fill="#e5281c"/>
<circle cx="201.98" cy="56.34" r="0.8" fill="#e5281c"/>
<circle cx="208.85" cy="75.12" r="0.8" fill="#e5281c"/>
<circle cx="203.04" cy="61.06" r="0.8" fill="#e5281c"/>
<circle cx="198.55" cy="54.76" r="0.8" fill="#e5281c"/>
<circle cx="198.83" cy="49.18" r="0.8" fill="#e5281c"/>
<circle cx="198.6" cy="72.36" r="0.8" fill="#e5281c"/>
<circle cx="202.13" cy="67.3" r="0.8" fill="#e5281c"/>
<circle cx="198.94" cy="44.4" r="0.8" fill="#e5281c"/>
<circle cx="204.38" cy="40.4" r="0.8" fill="#e5281c"/>
<circle cx="207.49" cy="71.56" r="0.8" fill="#e5281c"/>
<circle cx="208.66" cy="21.03" r="0.75" fill="#e5281c"/>
<circle cx="230.49" cy="60.55" r="0.75" fill="#e5281c"/>
<circle cx="234.34" cy="68.3" r="0.75" fill="#e5281c"/>
<circle cx="237.55" cy="65.2" r="0.75" fill="#e5281c"/>
<circle cx="234.34" cy="74.5" r="0.75" fill="#e5281c"/>
<circle cx="240.76" cy="51.25" r="0.75" fill="#e5281c"/>
<circle cx="241.4" cy="69.85" r="0.75" fill="#e5281c"/>
<circle cx="233.06" cy="71.4" r="0.75" fill="#e5281c"/>
<circle cx="240.12" cy="70.62" r="0.75" fill="#e5281c"/>
<circle cx="236.27" cy="60.55" r="0.75" fill="#e5281c"/>
<circle cx="229.2" cy="80.7" r="0.75" fill="#9a9a9a"/>
<circle cx="231.13" cy="78.38" r="0.75" fill="#9a9a9a"/>
<circle cx="233.06" cy="82.25" r="0.75" fill="#9a9a9a"/>
<circle cx="218.29" cy="79.15" r="0.75" fill="#9a9a9a"/>
<circle cx="221.5" cy="80.7" r="0.75" fill="#9a9a9a"/>
<rect x="157.3" y="17.8" width="88.3" height="83" fill="none" stroke="#444" stroke-width="0.8"/>
<text x="153.8" y="98.8" font-size="7.3" text-anchor="end" fill="#666">0</text>
<line x1="155.5" y1="96.2" x2="157.3" y2="96.2" stroke="#555" stroke-width="0.5"/>
<text x="153.8" y="83.3" font-size="7.3" text-anchor="end" fill="#666">1</text>
<line x1="155.5" y1="80.7" x2="157.3" y2="80.7" stroke="#555" stroke-width="0.5"/>
<text x="153.8" y="67.8" font-size="7.3" text-anchor="end" fill="#666">2</text>
<line x1="155.5" y1="65.2" x2="157.3" y2="65.2" stroke="#555" stroke-width="0.5"/>
<text x="153.8" y="52.3" font-size="7.3" text-anchor="end" fill="#666">3</text>
<line x1="155.5" y1="49.7" x2="157.3" y2="49.7" stroke="#555" stroke-width="0.5"/>
<text x="153.8" y="36.8" font-size="7.3" text-anchor="end" fill="#666">4</text>
<line x1="155.5" y1="34.2" x2="157.3" y2="34.2" stroke="#555" stroke-width="0.5"/>
<text x="153.8" y="21.3" font-size="7.3" text-anchor="end" fill="#666">5</text>
<line x1="155.5" y1="18.7" x2="157.3" y2="18.7" stroke="#555" stroke-width="0.5"/>
<text x="189.4" y="108.4" font-size="7.3" text-anchor="middle" fill="#555">0</text>
<text x="221.5" y="108.4" font-size="7.3" text-anchor="middle" fill="#555">5</text>
<text x="143.4" y="58" font-size="8.2" text-anchor="middle" stroke="#1a1a1a" stroke-width="0.22" transform="rotate(-90 143.4 58)">−Log<tspan font-size="6.6" dy="1.2">10</tspan><tspan dy="-1.2"> (</tspan><tspan font-style="italic">P</tspan>)</text>
<text x="204.5" y="120.5" font-size="7.7" text-anchor="middle" stroke="#1a1a1a" stroke-width="0.22">Log<tspan font-size="5.5" dy="1.8">2</tspan><tspan dy="-1.8"> (fold change)</tspan></text>
<circle cx="157.6" cy="131.3" r="0.8" fill="#1fb3b8"/>
<text x="161.4" y="133.1" font-size="7.7" stroke="#1a1a1a" stroke-width="0.22">down_regulated</text>
<circle cx="157.6" cy="140.6" r="0.8" fill="#8a8a8a"/>
<text x="161.4" y="142.4" font-size="7.7" stroke="#1a1a1a" stroke-width="0.22">not_significant</text>
<circle cx="157.6" cy="149.2" r="0.8" fill="#e5281c"/>
<text x="161.4" y="151" font-size="7.7" stroke="#1a1a1a" stroke-width="0.22">up_regulated</text>
<text x="263.8" y="10.4" font-size="13.4" fill="#000" font-weight="bold">C</text>
<line x1="312" y1="14.3" x2="312" y2="104.8" stroke="#efefef" stroke-width="0.5"/>
<line x1="328.7" y1="14.3" x2="328.7" y2="104.8" stroke="#efefef" stroke-width="0.5"/>
<line x1="345.2" y1="14.3" x2="345.2" y2="104.8" stroke="#efefef" stroke-width="0.5"/>
<line x1="361.5" y1="14.3" x2="361.5" y2="104.8" stroke="#efefef" stroke-width="0.5"/>
<line x1="308.7" y1="19.9" x2="366.5" y2="19.9" stroke="#efefef" stroke-width="0.5"/>
<line x1="308.7" y1="29.7" x2="366.5" y2="29.7" stroke="#efefef" stroke-width="0.5"/>
<line x1="308.7" y1="39.7" x2="366.5" y2="39.7" stroke="#efefef" stroke-width="0.5"/>
<line x1="308.7" y1="49.3" x2="366.5" y2="49.3" stroke="#efefef" stroke-width="0.5"/>
<line x1="308.7" y1="59.6" x2="366.5" y2="59.6" stroke="#efefef" stroke-width="0.5"/>
<line x1="308.7" y1="69.6" x2="366.5" y2="69.6" stroke="#efefef" stroke-width="0.5"/>
<line x1="308.7" y1="79.4" x2="366.5" y2="79.4" stroke="#efefef" stroke-width="0.5"/>
<line x1="308.7" y1="89.8" x2="366.5" y2="89.8" stroke="#efefef" stroke-width="0.5"/>
<line x1="308.7" y1="99.6" x2="366.5" y2="99.6" stroke="#efefef" stroke-width="0.5"/>
<rect x="308.7" y="14.3" width="57.8" height="90.5" fill="none" stroke="#333" stroke-width="0.8"/>
<circle cx="364.1" cy="19.9" r="1.5" fill="#e0283c"/>
<circle cx="359.1" cy="29.7" r="1.4" fill="#e0283c"/>
<circle cx="347.1" cy="39.7" r="1.3" fill="#e22840"/>
<circle cx="347.1" cy="49.3" r="1.3" fill="#e22840"/>
<circle cx="327.7" cy="59.6" r="1" fill="#3a2a3a"/>
<circle cx="323.1" cy="69.6" r="0.95" fill="#e03048"/>
<circle cx="321" cy="79.4" r="0.85" fill="#e04050"/>
<circle cx="313.8" cy="89.8" r="0.7" fill="#4a3040"/>
<circle cx="311.3" cy="99.6" r="0.5" fill="#c09098"/>
<text x="369.6" y="20.3" font-size="7.9" fill="#4d4d4d">PI3K−Akt signaling pathway</text>
<text x="369.6" y="30.4" font-size="7.9" fill="#4d4d4d">Human papillomavirus infection</text>
<text x="369.6" y="39.7" font-size="7.9" fill="#4d4d4d">Focal adhesion</text>
<text x="369.6" y="50.1" font-size="7.9" fill="#4d4d4d">ECM−receptor interaction</text>
<text x="369.6" y="60" font-size="7.9" fill="#4d4d4d">Cell adhesion molecules</text>
<text x="369.6" y="70.1" font-size="7.9" fill="#4d4d4d">Protein digestion and absorption</text>
<text x="369.6" y="80" font-size="7.9" fill="#4d4d4d">Complement and coagulation cascades</text>
<text x="369.6" y="89.6" font-size="7.9" fill="#4d4d4d">Legionellosis</text>
<text x="369.6" y="99.5" font-size="7.9" fill="#4d4d4d">Type I diabetes mellitus</text>
<text x="490.8" y="48.6" font-size="7.8" text-anchor="middle" stroke="#1a1a1a" stroke-width="0.22" transform="rotate(90 490.8 48.6)">Description</text>
<text x="312" y="114.2" font-size="7.6" text-anchor="middle" fill="#4d4d4d">0.02</text>
<line x1="312" y1="104.8" x2="312" y2="106.4" stroke="#4d4d4d" stroke-width="0.5"/>
<text x="328.7" y="114.2" font-size="7.6" text-anchor="middle" fill="#4d4d4d">0.04</text>
<line x1="328.7" y1="104.8" x2="328.7" y2="106.4" stroke="#4d4d4d" stroke-width="0.5"/>
<text x="345.2" y="114.2" font-size="7.6" text-anchor="middle" fill="#4d4d4d">0.06</text>
<line x1="345.2" y1="104.8" x2="345.2" y2="106.4" stroke="#4d4d4d" stroke-width="0.5"/>
<text x="361.5" y="114.2" font-size="7.6" text-anchor="middle" fill="#4d4d4d">0.08</text>
<line x1="361.5" y1="104.8" x2="361.5" y2="106.4" stroke="#4d4d4d" stroke-width="0.5"/>
<text x="339.6" y="124.6" font-size="7.8" text-anchor="middle" stroke="#1a1a1a" stroke-width="0.22">GeneRatio</text>
<text x="276.3" y="25.8" font-size="7.6" stroke="#1a1a1a" stroke-width="0.22"><tspan font-style="italic">P</tspan> adjust</text>
<rect x="298.8" y="31.2" width="4.2" height="16.8" fill="url(#cbp)"/>
<text x="296.6" y="36.4" font-size="7.6" text-anchor="end" stroke="#1a1a1a" stroke-width="0.22">0.006</text>
<text x="296.6" y="43.2" font-size="7.6" text-anchor="end" stroke="#1a1a1a" stroke-width="0.22">0.004</text>
<text x="296.6" y="50" font-size="7.6" text-anchor="end" stroke="#1a1a1a" stroke-width="0.22">0.002</text>
<text x="280.5" y="63.6" font-size="7.6" stroke="#1a1a1a" stroke-width="0.22">Counts</text>
<circle cx="295.2" cy="68.7" r="0.9" fill="#111"/>
<text x="297.4" y="71.5" font-size="7.6" stroke="#1a1a1a" stroke-width="0.22">10</text>
<circle cx="295.2" cy="75.6" r="1.1" fill="#111"/>
<text x="297.4" y="78.4" font-size="7.6" stroke="#1a1a1a" stroke-width="0.22">15</text>
<circle cx="295.2" cy="82.6" r="1.3" fill="#111"/>
<text x="297.4" y="85.4" font-size="7.6" stroke="#1a1a1a" stroke-width="0.22">20</text>
<circle cx="295.2" cy="89.4" r="1.5" fill="#111"/>
<text x="297.4" y="92.2" font-size="7.6" stroke="#1a1a1a" stroke-width="0.22">25</text>
<text x="0.6" y="205" font-size="13.4" fill="#000" font-weight="bold">D</text>
<rect x="33.8" y="205.2" width="9.6" height="3.4" fill="#e3222c"/>
<text x="45.5" y="208.8" font-size="7.7" stroke="#1a1a1a" stroke-width="0.22">Control</text>
<rect x="33.8" y="213.7" width="9.6" height="3.4" fill="#2a9fd9"/>
<text x="45.5" y="217.3" font-size="7.7" stroke="#1a1a1a" stroke-width="0.22">shCBX8-1</text>
<rect x="33.8" y="221.7" width="9.6" height="3.4" fill="#f4a93b"/>
<text x="45.5" y="225.3" font-size="7.7" stroke="#1a1a1a" stroke-width="0.22">shCBX8-2</text>
<line x1="30.2" y1="223.4" x2="30.2" y2="280.5" stroke="#484848" stroke-width="0.8"/>
<line x1="30.2" y1="289.8" x2="30.2" y2="346.6" stroke="#484848" stroke-width="0.8"/>
<line x1="27.5" y1="280.5" x2="33.2" y2="280.5" stroke="#484848" stroke-width="0.8"/>
<line x1="27.5" y1="289.8" x2="33.2" y2="289.8" stroke="#484848" stroke-width="0.8"/>
<line x1="27" y1="223.4" x2="30.2" y2="223.4" stroke="#484848" stroke-width="0.7"/>
<text x="25.2" y="226.2" font-size="7.9" text-anchor="end" stroke="#1a1a1a" stroke-width="0.22">50</text>
<line x1="27" y1="238.5" x2="30.2" y2="238.5" stroke="#484848" stroke-width="0.7"/>
<text x="25.2" y="241.3" font-size="7.9" text-anchor="end" stroke="#1a1a1a" stroke-width="0.22">40</text>
<line x1="27" y1="253.6" x2="30.2" y2="253.6" stroke="#484848" stroke-width="0.7"/>
<text x="25.2" y="256.4" font-size="7.9" text-anchor="end" stroke="#1a1a1a" stroke-width="0.22">30</text>
<line x1="27" y1="268.7" x2="30.2" y2="268.7" stroke="#484848" stroke-width="0.7"/>
<text x="25.2" y="271.5" font-size="7.9" text-anchor="end" stroke="#1a1a1a" stroke-width="0.22">20</text>
<line x1="27" y1="295.88" x2="30.2" y2="295.88" stroke="#484848" stroke-width="0.7"/>
<text x="25.2" y="298.68" font-size="7.9" text-anchor="end" stroke="#1a1a1a" stroke-width="0.22">8</text>
<line x1="27" y1="308.56" x2="30.2" y2="308.56" stroke="#484848" stroke-width="0.7"/>
<text x="25.2" y="311.36" font-size="7.9" text-anchor="end" stroke="#1a1a1a" stroke-width="0.22">6</text>
<line x1="27" y1="321.24" x2="30.2" y2="321.24" stroke="#484848" stroke-width="0.7"/>
<text x="25.2" y="324.04" font-size="7.9" text-anchor="end" stroke="#1a1a1a" stroke-width="0.22">4</text>
<line x1="27" y1="333.92" x2="30.2" y2="333.92" stroke="#484848" stroke-width="0.7"/>
<text x="25.2" y="336.72" font-size="7.9" text-anchor="end" stroke="#1a1a1a" stroke-width="0.22">2</text>
<line x1="27" y1="346.6" x2="30.2" y2="346.6" stroke="#484848" stroke-width="0.7"/>
<text x="25.2" y="349.4" font-size="7.9" text-anchor="end" stroke="#1a1a1a" stroke-width="0.22">0</text>
<line x1="30.2" y1="346.6" x2="214.5" y2="346.6" stroke="#484848" stroke-width="0.8"/>
<text x="7.2" y="283" font-size="7.7" text-anchor="middle" stroke="#1a1a1a" stroke-width="0.22" transform="rotate(-90 7.2 283)">Relative mRNA expression</text>
<rect x="32.8" y="340.26" width="4.4" height="6.34" fill="#e3222c"/>
<rect x="37.35" y="342.16" width="4.4" height="4.44" fill="#2a9fd9"/>
<line x1="39.55" y1="340.96" x2="39.55" y2="342.16" stroke="#2a9fd9" stroke-width="0.5"/>
<text x="40.15" y="341.86" font-size="7.6" text-anchor="middle" font-weight="bold">***</text>
<rect x="41.9" y="344.06" width="4.4" height="2.54" fill="#f4a93b"/>
<line x1="44.1" y1="342.86" x2="44.1" y2="344.06" stroke="#f4a93b" stroke-width="0.5"/>
<text x="46.5" y="344.96" font-size="7.6" text-anchor="middle" font-weight="bold">***</text>
<line x1="39.55" y1="346.6" x2="39.55" y2="348.6" stroke="#484848" stroke-width="0.6"/>
<text x="42.55" y="354.8" font-size="7.7" text-anchor="end" stroke="#1a1a1a" stroke-width="0.22" transform="rotate(-45 42.55 354.8)">CBX8</text>
<rect x="51.22" y="339.63" width="4.4" height="6.97" fill="#e3222c"/>
<rect x="55.77" y="289.5" width="4.4" height="57.1" fill="#2a9fd9"/>
<rect x="55.77" y="277.76" width="4.4" height="2.74" fill="#2a9fd9"/>
<line x1="57.97" y1="276.56" x2="57.97" y2="277.76" stroke="#2a9fd9" stroke-width="0.5"/>
<text x="57.97" y="278.46" font-size="7.6" text-anchor="middle" font-weight="bold">***</text>
<rect x="60.32" y="318.07" width="4.4" height="28.53" fill="#f4a93b"/>
<line x1="62.52" y1="316.87" x2="62.52" y2="318.07" stroke="#f4a93b" stroke-width="0.5"/>
<text x="62.52" y="318.77" font-size="7.6" text-anchor="middle" font-weight="bold">***</text>
<line x1="57.97" y1="346.6" x2="57.97" y2="348.6" stroke="#484848" stroke-width="0.6"/>
<text x="60.97" y="354.8" font-size="7.7" text-anchor="end" stroke="#1a1a1a" stroke-width="0.22" transform="rotate(-45 60.97 354.8)">E-cadherin</text>
<rect x="69.64" y="340.26" width="4.4" height="6.34" fill="#e3222c"/>
<rect x="74.19" y="289.5" width="4.4" height="57.1" fill="#2a9fd9"/>
<rect x="74.19" y="271.72" width="4.4" height="8.78" fill="#2a9fd9"/>
<line x1="76.39" y1="270.52" x2="76.39" y2="271.72" stroke="#2a9fd9" stroke-width="0.5"/>
<text x="76.39" y="272.42" font-size="7.6" text-anchor="middle" font-weight="bold">***</text>
<rect x="78.74" y="332.65" width="4.4" height="13.95" fill="#f4a93b"/>
<line x1="80.94" y1="331.45" x2="80.94" y2="332.65" stroke="#f4a93b" stroke-width="0.5"/>
<text x="80.94" y="333.35" font-size="7.6" text-anchor="middle" font-weight="bold">**</text>
<line x1="76.39" y1="346.6" x2="76.39" y2="348.6" stroke="#484848" stroke-width="0.6"/>
<text x="79.39" y="354.8" font-size="7.7" text-anchor="end" stroke="#1a1a1a" stroke-width="0.22" transform="rotate(-45 79.39 354.8)">IFITM1</text>
<rect x="88.06" y="340.26" width="4.4" height="6.34" fill="#e3222c"/>
<rect x="92.61" y="319.97" width="4.4" height="26.63" fill="#2a9fd9"/>
<line x1="94.81" y1="318.77" x2="94.81" y2="319.97" stroke="#2a9fd9" stroke-width="0.5"/>
<text x="94.81" y="320.67" font-size="7.6" text-anchor="middle" font-weight="bold">***</text>
<rect x="97.16" y="333.29" width="4.4" height="13.31" fill="#f4a93b"/>
<line x1="99.36" y1="332.09" x2="99.36" y2="333.29" stroke="#f4a93b" stroke-width="0.5"/>
<text x="99.36" y="333.99" font-size="7.6" text-anchor="middle" font-weight="bold">***</text>
<line x1="94.81" y1="346.6" x2="94.81" y2="348.6" stroke="#484848" stroke-width="0.6"/>
<text x="97.81" y="354.8" font-size="7.7" text-anchor="end" stroke="#1a1a1a" stroke-width="0.22" transform="rotate(-45 97.81 354.8)">γ-catenin</text>
<rect x="106.48" y="340.26" width="4.4" height="6.34" fill="#e3222c"/>
<rect x="111.03" y="314.27" width="4.4" height="32.33" fill="#2a9fd9"/>
<line x1="113.23" y1="313.07" x2="113.23" y2="314.27" stroke="#2a9fd9" stroke-width="0.5"/>
<text x="111.43" y="311.27" font-size="7.6" text-anchor="middle" font-weight="bold">***</text>
<rect x="115.58" y="315.53" width="4.4" height="31.07" fill="#f4a93b"/>
<line x1="117.78" y1="314.33" x2="117.78" y2="315.53" stroke="#f4a93b" stroke-width="0.5"/>
<text x="119.58" y="316.03" font-size="7.6" text-anchor="middle" font-weight="bold">***</text>
<line x1="113.23" y1="346.6" x2="113.23" y2="348.6" stroke="#484848" stroke-width="0.6"/>
<text x="116.23" y="354.8" font-size="7.7" text-anchor="end" stroke="#1a1a1a" stroke-width="0.22" transform="rotate(-45 116.23 354.8)">L1CAM</text>
<rect x="124.9" y="340.26" width="4.4" height="6.34" fill="#e3222c"/>
<rect x="129.45" y="289.5" width="4.4" height="57.1" fill="#2a9fd9"/>
<rect x="129.45" y="277.76" width="4.4" height="2.74" fill="#2a9fd9"/>
<line x1="131.65" y1="276.56" x2="131.65" y2="277.76" stroke="#2a9fd9" stroke-width="0.5"/>
<text x="131.65" y="278.46" font-size="7.6" text-anchor="middle" font-weight="bold">***</text>
<rect x="134" y="325.04" width="4.4" height="21.56" fill="#f4a93b"/>
<line x1="136.2" y1="323.84" x2="136.2" y2="325.04" stroke="#f4a93b" stroke-width="0.5"/>
<text x="136.2" y="325.74" font-size="7.6" text-anchor="middle" font-weight="bold">***</text>
<line x1="131.65" y1="346.6" x2="131.65" y2="348.6" stroke="#484848" stroke-width="0.6"/>
<text x="134.65" y="354.8" font-size="7.7" text-anchor="end" stroke="#1a1a1a" stroke-width="0.22" transform="rotate(-45 134.65 354.8)">SUSD2</text>
<rect x="143.32" y="340.26" width="4.4" height="6.34" fill="#e3222c"/>
<rect x="147.87" y="289.5" width="4.4" height="57.1" fill="#2a9fd9"/>
<rect x="147.87" y="233.97" width="4.4" height="46.53" fill="#2a9fd9"/>
<line x1="150.07" y1="232.77" x2="150.07" y2="233.97" stroke="#2a9fd9" stroke-width="0.5"/>
<text x="150.07" y="234.67" font-size="7.6" text-anchor="middle" font-weight="bold">***</text>
<rect x="152.42" y="331.38" width="4.4" height="15.22" fill="#f4a93b"/>
<line x1="154.62" y1="330.18" x2="154.62" y2="331.38" stroke="#f4a93b" stroke-width="0.5"/>
<text x="154.62" y="332.08" font-size="7.6" text-anchor="middle" font-weight="bold">***</text>
<line x1="150.07" y1="346.6" x2="150.07" y2="348.6" stroke="#484848" stroke-width="0.6"/>
<text x="153.07" y="354.8" font-size="7.7" text-anchor="end" stroke="#1a1a1a" stroke-width="0.22" transform="rotate(-45 153.07 354.8)">SCIN</text>
<rect x="161.74" y="340.26" width="4.4" height="6.34" fill="#e3222c"/>
<rect x="166.29" y="345.97" width="4.4" height="0.63" fill="#2a9fd9"/>
<line x1="168.49" y1="344.77" x2="168.49" y2="345.97" stroke="#2a9fd9" stroke-width="0.5"/>
<text x="170.09" y="345.97" font-size="7.6" text-anchor="middle" font-weight="bold">***</text>
<rect x="170.84" y="344.06" width="4.4" height="2.54" fill="#f4a93b"/>
<line x1="173.04" y1="342.86" x2="173.04" y2="344.06" stroke="#f4a93b" stroke-width="0.5"/>
<text x="174.24" y="341.96" font-size="7.6" text-anchor="middle" font-weight="bold">***</text>
<line x1="168.49" y1="346.6" x2="168.49" y2="348.6" stroke="#484848" stroke-width="0.6"/>
<text x="171.49" y="354.8" font-size="7.7" text-anchor="end" stroke="#1a1a1a" stroke-width="0.22" transform="rotate(-45 171.49 354.8)">FGF1</text>
<rect x="180.16" y="340.26" width="4.4" height="6.34" fill="#e3222c"/>
<rect x="184.71" y="344.7" width="4.4" height="1.9" fill="#2a9fd9"/>
<line x1="186.91" y1="343.5" x2="186.91" y2="344.7" stroke="#2a9fd9" stroke-width="0.5"/>
<text x="189.21" y="343.5" font-size="7.6" text-anchor="middle" font-weight="bold">***</text>
<rect x="189.26" y="345.97" width="4.4" height="0.63" fill="#f4a93b"/>
<line x1="191.46" y1="344.77" x2="191.46" y2="345.97" stroke="#f4a93b" stroke-width="0.5"/>
<text x="193.96" y="347.67" font-size="7.6" text-anchor="middle" font-weight="bold">***</text>
<line x1="186.91" y1="346.6" x2="186.91" y2="348.6" stroke="#484848" stroke-width="0.6"/>
<text x="189.91" y="354.8" font-size="7.7" text-anchor="end" stroke="#1a1a1a" stroke-width="0.22" transform="rotate(-45 189.91 354.8)">FGF5</text>
<rect x="198.58" y="340.26" width="4.4" height="6.34" fill="#e3222c"/>
<rect x="203.13" y="342.16" width="4.4" height="4.44" fill="#2a9fd9"/>
<line x1="205.33" y1="340.96" x2="205.33" y2="342.16" stroke="#2a9fd9" stroke-width="0.5"/>
<text x="208.23" y="340.86" font-size="7.6" text-anchor="middle" font-weight="bold">***</text>
<rect x="207.68" y="343.43" width="4.4" height="3.17" fill="#f4a93b"/>
<line x1="209.88" y1="342.23" x2="209.88" y2="343.43" stroke="#f4a93b" stroke-width="0.5"/>
<text x="212.38" y="344.53" font-size="7.6" text-anchor="middle" font-weight="bold">***</text>
<line x1="205.33" y1="346.6" x2="205.33" y2="348.6" stroke="#484848" stroke-width="0.6"/>
<text x="208.33" y="354.8" font-size="7.7" text-anchor="end" stroke="#1a1a1a" stroke-width="0.22" transform="rotate(-45 208.33 354.8)">CLU</text>
<defs><filter id="bl" x="-30%" y="-60%" width="160%" height="220%"><feGaussianBlur stdDeviation="1.0 0.7"/></filter><filter id="bl2" x="-30%" y="-60%" width="160%" height="220%"><feGaussianBlur stdDeviation="1.6 1.3"/></filter></defs>
<text x="240" y="205.4" font-size="13.4" fill="#000" font-weight="bold">E</text>
<text x="312" y="203.6" font-size="7.7" text-anchor="middle" stroke="#1a1a1a" stroke-width="0.22">A2780</text>
<line x1="279.6" y1="206.9" x2="340" y2="206.9" stroke="#444" stroke-width="0.8"/>
<text x="280.8" y="237.3" font-size="7.45" stroke="#1a1a1a" stroke-width="0.22" transform="rotate(-45 280.8 237.3)">Control</text>
<text x="300.1" y="237.3" font-size="7.45" stroke="#1a1a1a" stroke-width="0.22" transform="rotate(-45 300.1 237.3)">shCBX8-1</text>
<text x="320.4" y="237.3" font-size="7.45" stroke="#1a1a1a" stroke-width="0.22" transform="rotate(-45 320.4 237.3)">shCBX8-2</text>
<rect x="267.7" y="240" width="63.3" height="12.5" fill="#e0e0e0"/>
<g clip-path="none">
<rect x="268.23" y="243.62" width="20.05" height="5.25" rx="2.62" fill="#303030" filter="url(#bl)"/>
<rect x="290.91" y="244" width="16.88" height="4.5" rx="2.25" fill="#bcbcbc" filter="url(#bl)"/>
<rect x="311.48" y="243.75" width="17.94" height="5" rx="2.5" fill="#9c9c9c" filter="url(#bl)"/>
</g>
<rect x="267.7" y="240" width="63.3" height="12.5" fill="none" stroke="#3a3a3a" stroke-width="0.7"/>
<text x="266.1" y="249.05" font-size="7.7" text-anchor="end" stroke="#1a1a1a" stroke-width="0.22">CBX8</text>
<line x1="331" y1="249" x2="336.5" y2="249" stroke="#333" stroke-width="0.7"/>
<text x="338.8" y="250.4" font-size="7.7" stroke="#1a1a1a" stroke-width="0.22">45 kDa</text>
<rect x="267.7" y="254.6" width="63.3" height="12.6" fill="#929292"/>
<g clip-path="none">
<rect x="268.23" y="257.75" width="20.05" height="6.3" rx="3.15" fill="#666666" filter="url(#bl)"/>
<rect x="289.33" y="256.81" width="20.05" height="8.19" rx="4.09" fill="#3c3c3c" filter="url(#bl)"/>
<rect x="310.43" y="257.12" width="20.05" height="7.56" rx="3.78" fill="#484848" filter="url(#bl)"/>
</g>
<rect x="267.7" y="254.6" width="63.3" height="12.6" fill="none" stroke="#3a3a3a" stroke-width="0.7"/>
<text x="266.1" y="263.7" font-size="7.7" text-anchor="end" stroke="#1a1a1a" stroke-width="0.22">SUSD2</text>
<line x1="331" y1="257.7" x2="336.5" y2="257.7" stroke="#333" stroke-width="0.7"/>
<text x="338.8" y="259.7" font-size="7.7" stroke="#1a1a1a" stroke-width="0.22">60 kDa</text>
<rect x="267.7" y="269.4" width="63.3" height="12.2" fill="#b4b4b4"/>
<g clip-path="none">
<rect x="268.23" y="272.45" width="20.05" height="6.1" rx="3.05" fill="#383838" filter="url(#bl)"/>
<rect x="289.64" y="272.57" width="19.41" height="5.86" rx="2.93" fill="#363636" filter="url(#bl)"/>
<rect x="310.43" y="272.14" width="20.05" height="6.71" rx="3.36" fill="#2c2c2c" filter="url(#bl)"/>
</g>
<rect x="267.7" y="269.4" width="63.3" height="12.2" fill="none" stroke="#3a3a3a" stroke-width="0.7"/>
<text x="266.1" y="278.3" font-size="7.7" text-anchor="end" stroke="#1a1a1a" stroke-width="0.22">β-Actin</text>
<line x1="331" y1="273.1" x2="336.5" y2="273.1" stroke="#333" stroke-width="0.7"/>
<text x="338.8" y="275.2" font-size="7.7" stroke="#1a1a1a" stroke-width="0.22">45 kDa</text>
<text x="388.1" y="205.8" font-size="13.4" fill="#000" font-weight="bold">F</text>
<text x="467.4" y="202.4" font-size="7.7" text-anchor="middle" stroke="#1a1a1a" stroke-width="0.22">A2780</text>
<line x1="435.2" y1="205.6" x2="495.8" y2="205.6" stroke="#444" stroke-width="0.8"/>
<text x="435.9" y="236.8" font-size="7.45" stroke="#1a1a1a" stroke-width="0.22" transform="rotate(-45 435.9 236.8)">Control</text>
<text x="456.2" y="236.8" font-size="7.45" stroke="#1a1a1a" stroke-width="0.22" transform="rotate(-45 456.2 236.8)">shCBX8-1</text>
<text x="477.2" y="236.8" font-size="7.45" stroke="#1a1a1a" stroke-width="0.22" transform="rotate(-45 477.2 236.8)">shCBX8-2</text>
<rect x="423.8" y="238.7" width="63.2" height="12.5" fill="#d6d6d6"/>
<g clip-path="none">
<rect x="425.38" y="242.07" width="17.91" height="3.75" rx="1.88" fill="#8e8e8e" filter="url(#bl)"/>
<rect x="446.97" y="242.45" width="16.85" height="3.75" rx="1.88" fill="#bababa" filter="url(#bl)"/>
<rect x="468.04" y="242.45" width="16.85" height="3.75" rx="1.88" fill="#b2b2b2" filter="url(#bl)"/>
</g>
<rect x="423.8" y="238.7" width="63.2" height="12.5" fill="none" stroke="#3a3a3a" stroke-width="0.7"/>
<text x="422.2" y="247.75" font-size="7.7" text-anchor="end" stroke="#1a1a1a" stroke-width="0.22">CyclinD1</text>
<line x1="487" y1="242.3" x2="492.5" y2="242.3" stroke="#333" stroke-width="0.7"/>
<text x="494.8" y="244" font-size="7.7" stroke="#1a1a1a" stroke-width="0.22">35 kDa</text>
<rect x="423.8" y="253.5" width="63.2" height="12.7" fill="#d2d2d2"/>
<g clip-path="none">
<rect x="425.91" y="256.68" width="16.85" height="3.81" rx="1.9" fill="#9a9a9a" filter="url(#bl)"/>
<rect x="447.5" y="257.56" width="15.8" height="4.06" rx="2.03" fill="#aaaaaa" filter="url(#bl)"/>
<rect x="468.04" y="257.95" width="16.85" height="3.81" rx="1.9" fill="#c6c6c6" filter="url(#bl)"/>
</g>
<rect x="423.8" y="253.5" width="63.2" height="12.7" fill="none" stroke="#3a3a3a" stroke-width="0.7"/>
<text x="422.2" y="262.65" font-size="7.7" text-anchor="end" stroke="#1a1a1a" stroke-width="0.22">CDK6</text>
<line x1="487" y1="263.3" x2="492.5" y2="263.3" stroke="#333" stroke-width="0.7"/>
<text x="494.8" y="264.5" font-size="7.7" stroke="#1a1a1a" stroke-width="0.22">35 kDa</text>
<rect x="423.8" y="268.5" width="63.2" height="12.5" fill="#dadada"/>
<g clip-path="none">
<rect x="424.64" y="271.44" width="19.38" height="5.62" rx="2.81" fill="#2c2c2c" filter="url(#bl)"/>
<rect x="446.45" y="272.56" width="17.91" height="4.38" rx="2.19" fill="#606060" filter="url(#bl)"/>
<rect x="467.51" y="272.56" width="17.91" height="4.38" rx="2.19" fill="#666666" filter="url(#bl)"/>
</g>
<rect x="423.8" y="268.5" width="63.2" height="12.5" fill="none" stroke="#3a3a3a" stroke-width="0.7"/>
<text x="422.2" y="277.55" font-size="7.7" text-anchor="end" stroke="#1a1a1a" stroke-width="0.22">CBX8</text>
<line x1="487" y1="278" x2="492.5" y2="278" stroke="#333" stroke-width="0.7"/>
<text x="494.8" y="279.4" font-size="7.7" stroke="#1a1a1a" stroke-width="0.22">45 kDa</text>
<rect x="423.8" y="282.9" width="63.2" height="11.5" fill="#bcbcbc"/>
<g clip-path="none">
<rect x="424.33" y="285.49" width="20.01" height="6.33" rx="3.16" fill="#0e0e0e" filter="url(#bl)"/>
<rect x="445.39" y="285.49" width="20.01" height="6.33" rx="3.16" fill="#141414" filter="url(#bl)"/>
<rect x="466.46" y="285.77" width="20.01" height="5.75" rx="2.88" fill="#181818" filter="url(#bl)"/>
</g>
<rect x="423.8" y="282.9" width="63.2" height="11.5" fill="none" stroke="#3a3a3a" stroke-width="0.7"/>
<text x="422.2" y="291.45" font-size="7.7" text-anchor="end" stroke="#1a1a1a" stroke-width="0.22">α-Tubulin</text>
<line x1="487" y1="285.9" x2="492.5" y2="285.9" stroke="#333" stroke-width="0.7"/>
<text x="494.8" y="288.2" font-size="7.7" stroke="#1a1a1a" stroke-width="0.22">60 kDa</text>
<text x="238.6" y="317.7" font-size="13.4" fill="#000" font-weight="bold">G</text>
<text x="311.9" y="313.4" font-size="7.7" text-anchor="middle" stroke="#1a1a1a" stroke-width="0.22">A2780</text>
<line x1="279" y1="316.4" x2="340" y2="316.4" stroke="#444" stroke-width="0.8"/>
<text x="281.1" y="346.8" font-size="7.45" stroke="#1a1a1a" stroke-width="0.22" transform="rotate(-45 281.1 346.8)">Control</text>
<text x="300.4" y="346.8" font-size="7.45" stroke="#1a1a1a" stroke-width="0.22" transform="rotate(-45 300.4 346.8)">shCBX8-1</text>
<text x="320.6" y="346.8" font-size="7.45" stroke="#1a1a1a" stroke-width="0.22" transform="rotate(-45 320.6 346.8)">shCBX8-1</text>
<text x="331.3" y="346.9" font-size="7.45" stroke="#1a1a1a" stroke-width="0.22" transform="rotate(-45 331.3 346.9)">+siSUSD2</text>
<rect x="269.2" y="349.2" width="62.3" height="13.1" fill="#d2d2d2"/>
<g clip-path="none">
<rect x="270.03" y="351.69" width="19.11" height="6.55" rx="3.28" fill="#4a4a4a" filter="url(#bl)"/>
<rect x="291.52" y="353.13" width="17.65" height="5.24" rx="2.62" fill="#b4b4b4" filter="url(#bl)"/>
<rect x="312.29" y="353.13" width="17.65" height="5.24" rx="2.62" fill="#a4a4a4" filter="url(#bl)"/>
</g>
<rect x="269.2" y="349.2" width="62.3" height="13.1" fill="none" stroke="#3a3a3a" stroke-width="0.7"/>
<text x="267.6" y="358.55" font-size="7.7" text-anchor="end" stroke="#1a1a1a" stroke-width="0.22">CBX8</text>
<line x1="331.5" y1="357.9" x2="337" y2="357.9" stroke="#333" stroke-width="0.7"/>
<text x="339.3" y="360.2" font-size="7.7" stroke="#1a1a1a" stroke-width="0.22">45 kDa</text>
<rect x="269.2" y="363.8" width="62.3" height="13.1" fill="#c6c6c6"/>
<g clip-path="none">
<rect x="270.76" y="367.86" width="17.65" height="4.98" rx="2.49" fill="#8c8c8c" filter="url(#bl)"/>
<rect x="291" y="367.21" width="18.69" height="6.29" rx="3.14" fill="#4a4a4a" filter="url(#bl)"/>
<rect x="311.77" y="367.4" width="18.69" height="5.89" rx="2.95" fill="#5a5a5a" filter="url(#bl)"/>
</g>
<rect x="269.2" y="363.8" width="62.3" height="13.1" fill="none" stroke="#3a3a3a" stroke-width="0.7"/>
<text x="267.6" y="373.15" font-size="7.7" text-anchor="end" stroke="#1a1a1a" stroke-width="0.22">SUSD2</text>
<line x1="331.5" y1="366.6" x2="337" y2="366.6" stroke="#333" stroke-width="0.7"/>
<text x="339.3" y="369.1" font-size="7.7" stroke="#1a1a1a" stroke-width="0.22">60 kDa</text>
<rect x="269.2" y="379.2" width="62.3" height="12.3" fill="#cacaca"/>
<g clip-path="none">
<rect x="270.03" y="382.58" width="19.11" height="5.54" rx="2.77" fill="#161616" filter="url(#bl)"/>
<rect x="291.21" y="383.01" width="18.27" height="4.67" rx="2.34" fill="#404040" filter="url(#bl)"/>
<rect x="311.98" y="383.01" width="18.27" height="4.67" rx="2.34" fill="#4e4e4e" filter="url(#bl)"/>
</g>
<rect x="269.2" y="379.2" width="62.3" height="12.3" fill="none" stroke="#3a3a3a" stroke-width="0.7"/>
<text x="267.6" y="388.15" font-size="7.7" text-anchor="end" stroke="#1a1a1a" stroke-width="0.22">β-Actin</text>
<line x1="331.5" y1="382.9" x2="337" y2="382.9" stroke="#333" stroke-width="0.7"/>
<text x="339.3" y="385.2" font-size="7.7" stroke="#1a1a1a" stroke-width="0.22">45 kDa</text>
<text x="388.2" y="318" font-size="13.4" fill="#000" font-weight="bold">H</text>
<text x="450" y="321.3" font-size="7.7" text-anchor="middle" stroke="#1a1a1a" stroke-width="0.22">A2780</text>
<line x1="415" y1="325" x2="483" y2="325" stroke="#444" stroke-width="0.8"/>
<line x1="423.6" y1="330.75" x2="426.4" y2="330.75" stroke="#e0303a" stroke-width="1"/>
<text x="430" y="333.45" font-size="7.7" stroke="#1a1a1a" stroke-width="0.22">Control</text>
<line x1="423.6" y1="339.5" x2="426.4" y2="339.5" stroke="#6a8fd0" stroke-width="1"/>
<text x="430" y="342.2" font-size="7.7" stroke="#1a1a1a" stroke-width="0.22">shCBX8-1</text>
<line x1="423.6" y1="348" x2="426.4" y2="348" stroke="#f2c27a" stroke-width="1"/>
<text x="430" y="350.7" font-size="7.7" stroke="#1a1a1a" stroke-width="0.22">shCBX8-1+siSUSD2</text>
<line x1="419.6" y1="347" x2="419.6" y2="395" stroke="#484848" stroke-width="0.8"/>
<line x1="419.6" y1="395" x2="481" y2="395" stroke="#484848" stroke-width="0.8"/>
<line x1="417.5" y1="347" x2="419.6" y2="347" stroke="#484848" stroke-width="0.7"/>
<text x="416.6" y="349.7" font-size="7.7" text-anchor="end" stroke="#1a1a1a" stroke-width="0.22">2.0</text>
<line x1="417.5" y1="359" x2="419.6" y2="359" stroke="#484848" stroke-width="0.7"/>
<text x="416.6" y="361.7" font-size="7.7" text-anchor="end" stroke="#1a1a1a" stroke-width="0.22">1.5</text>
<line x1="417.5" y1="371" x2="419.6" y2="371" stroke="#484848" stroke-width="0.7"/>
<text x="416.6" y="373.7" font-size="7.7" text-anchor="end" stroke="#1a1a1a" stroke-width="0.22">1.0</text>
<line x1="417.5" y1="383" x2="419.6" y2="383" stroke="#484848" stroke-width="0.7"/>
<text x="416.6" y="385.7" font-size="7.7" text-anchor="end" stroke="#1a1a1a" stroke-width="0.22">0.5</text>
<line x1="417.5" y1="395" x2="419.6" y2="395" stroke="#484848" stroke-width="0.7"/>
<text x="416.6" y="397.7" font-size="7.7" text-anchor="end" stroke="#1a1a1a" stroke-width="0.22">0.0</text>
<text x="400.4" y="371" font-size="7.7" text-anchor="middle" stroke="#1a1a1a" stroke-width="0.22" transform="rotate(-90 400.4 371)">OD 490 nm</text>
<line x1="434.6" y1="395" x2="434.6" y2="397" stroke="#484848" stroke-width="0.6"/>
<text x="439.2" y="403.2" font-size="7.7" text-anchor="end" stroke="#1a1a1a" stroke-width="0.22" transform="rotate(-45 439.2 403.2)">24 h</text>
<line x1="456.7" y1="395" x2="456.7" y2="397" stroke="#484848" stroke-width="0.6"/>
<text x="461.3" y="403.2" font-size="7.7" text-anchor="end" stroke="#1a1a1a" stroke-width="0.22" transform="rotate(-45 461.3 403.2)">48 h</text>
<line x1="478.8" y1="395" x2="478.8" y2="397" stroke="#484848" stroke-width="0.6"/>
<text x="483.4" y="403.2" font-size="7.7" text-anchor="end" stroke="#1a1a1a" stroke-width="0.22" transform="rotate(-45 483.4 403.2)">72 h</text>
<polyline points="434.6,391.4 456.7,383 478.8,371" fill="none" stroke="#6a8fd0" stroke-width="0.9"/>
<circle cx="434.6" cy="391.4" r="1.1" fill="#6a8fd0"/>
<circle cx="456.7" cy="383" r="1.1" fill="#6a8fd0"/>
<circle cx="478.8" cy="371" r="1.1" fill="#6a8fd0"/>
<polyline points="434.6,391.4 456.7,382.52 478.8,368.6" fill="none" stroke="#f2c27a" stroke-width="0.9"/>
<circle cx="434.6" cy="391.4" r="1.1" fill="#f2c27a"/>
<circle cx="456.7" cy="382.52" r="1.1" fill="#f2c27a"/>
<circle cx="478.8" cy="368.6" r="1.1" fill="#f2c27a"/>
<polyline points="434.6,391.4 456.7,379.16 478.8,360.2" fill="none" stroke="#e0303a" stroke-width="0.9"/>
<circle cx="434.6" cy="391.4" r="1.1" fill="#e0303a"/>
<circle cx="456.7" cy="379.16" r="1.1" fill="#e0303a"/>
<circle cx="478.8" cy="360.2" r="1.1" fill="#e0303a"/>
<line x1="478.8" y1="357.32" x2="478.8" y2="362.6" stroke="#e0303a" stroke-width="0.6"/>
<polyline points="481.8,358.52 484.6,358.52 484.6,369.56 481.8,369.56" fill="none" stroke="#333" stroke-width="0.6"/>
<text x="486.6" y="367.88" font-size="7.8" stroke="#1a1a1a" stroke-width="0.22">***</text>
<polyline points="484.2,368.12 486.6,368.12 486.6,371.72 484.2,371.72" fill="none" stroke="#333" stroke-width="0.6"/>
<text x="487.9" y="373.88" font-size="7.8" stroke="#1a1a1a" stroke-width="0.22">***</text>
<defs><filter id="nz" x="0" y="0" width="100%" height="100%" color-interpolation-filters="sRGB"><feTurbulence type="fractalNoise" baseFrequency="0.55" numOctaves="3" seed="3" result="t"/><feColorMatrix type="matrix" values="1.15 0 0 0 -0.02  1.15 0 0 0 -0.02  1.15 0 0 0 -0.02  0 0 0 0 1" in="t"/></filter></defs>
<text x="0.3" y="418" font-size="13.4" fill="#000" font-weight="bold">I</text>
<text x="46.2" y="425.2" font-size="7.7" text-anchor="middle" stroke="#1a1a1a" stroke-width="0.22">Control</text>
<text x="87.8" y="425.2" font-size="7.7" text-anchor="middle" stroke="#1a1a1a" stroke-width="0.22">shCBX8-1</text>
<text x="132.4" y="416.9" font-size="7.7" text-anchor="middle" stroke="#1a1a1a" stroke-width="0.22">shCBX8-1</text>
<text x="132.9" y="425.2" font-size="7.7" text-anchor="middle" stroke="#1a1a1a" stroke-width="0.22">+siSUSD2</text>
<rect x="24.1" y="429.2" width="41.1" height="40.1" fill="#9c9c9c"/>
<rect x="24.1" y="429.2" width="41.1" height="40.1" fill="#fff" filter="url(#nz)" style="mix-blend-mode:normal"/>
<rect x="38.1" y="429.2" width="13.6" height="40.1" fill="#474747"/>
<rect x="38.1" y="429.2" width="1.1" height="40.1" fill="#1a1a1a"/>
<rect x="50.6" y="429.2" width="1.1" height="40.1" fill="#1a1a1a"/>
<rect x="24.1" y="472.4" width="41.1" height="40.1" fill="#9c9c9c"/>
<rect x="24.1" y="472.4" width="41.1" height="40.1" fill="#fff" filter="url(#nz)" style="mix-blend-mode:normal"/>
<rect x="40.8" y="472.4" width="7.9" height="40.1" fill="#555555"/>
<rect x="40.8" y="472.4" width="1.1" height="40.1" fill="#1a1a1a"/>
<rect x="47.6" y="472.4" width="1.1" height="40.1" fill="#1a1a1a"/>
<rect x="24.1" y="515.5" width="41.1" height="40.2" fill="#9c9c9c"/>
<rect x="24.1" y="515.5" width="41.1" height="40.2" fill="#fff" filter="url(#nz)" style="mix-blend-mode:normal"/>
<rect x="40.8" y="515.5" width="7.2" height="40.2" fill="#4e4e4e"/>
<rect x="40.8" y="515.5" width="1.1" height="40.2" fill="#1a1a1a"/>
<rect x="46.9" y="515.5" width="1.1" height="40.2" fill="#1a1a1a"/>
<rect x="67.2" y="429.2" width="40.6" height="40.1" fill="#9c9c9c"/>
<rect x="67.2" y="429.2" width="40.6" height="40.1" fill="#fff" filter="url(#nz)" style="mix-blend-mode:normal"/>
<rect x="81.2" y="429.2" width="11.2" height="40.1" fill="#4a4a4a"/>
<rect x="81.2" y="429.2" width="1.1" height="40.1" fill="#1a1a1a"/>
<rect x="91.3" y="429.2" width="1.1" height="40.1" fill="#1a1a1a"/>
<rect x="67.2" y="472.4" width="40.6" height="40.1" fill="#9c9c9c"/>
<rect x="67.2" y="472.4" width="40.6" height="40.1" fill="#fff" filter="url(#nz)" style="mix-blend-mode:normal"/>
<rect x="81.9" y="472.4" width="9.6" height="40.1" fill="#555555"/>
<rect x="81.9" y="472.4" width="1.1" height="40.1" fill="#1a1a1a"/>
<rect x="90.4" y="472.4" width="1.1" height="40.1" fill="#1a1a1a"/>
<rect x="67.2" y="515.5" width="40.6" height="40.2" fill="#9c9c9c"/>
<rect x="67.2" y="515.5" width="40.6" height="40.2" fill="#fff" filter="url(#nz)" style="mix-blend-mode:normal"/>
<rect x="82.9" y="515.5" width="8.5" height="40.2" fill="#505050"/>
<rect x="82.9" y="515.5" width="1.1" height="40.2" fill="#1a1a1a"/>
<rect x="90.3" y="515.5" width="1.1" height="40.2" fill="#1a1a1a"/>
<rect x="110.4" y="429.2" width="40.6" height="40.1" fill="#9c9c9c"/>
<rect x="110.4" y="429.2" width="40.6" height="40.1" fill="#fff" filter="url(#nz)" style="mix-blend-mode:normal"/>
<rect x="126" y="429.2" width="11.2" height="40.1" fill="#4d4d4d"/>
<rect x="126" y="429.2" width="1.1" height="40.1" fill="#1a1a1a"/>
<rect x="136.1" y="429.2" width="1.1" height="40.1" fill="#1a1a1a"/>
<rect x="110.4" y="472.4" width="40.6" height="40.1" fill="#9c9c9c"/>
<rect x="110.4" y="472.4" width="40.6" height="40.1" fill="#fff" filter="url(#nz)" style="mix-blend-mode:normal"/>
<rect x="126.5" y="472.4" width="10.4" height="40.1" fill="#5e5e5e"/>
<rect x="126.5" y="472.4" width="1.1" height="40.1" fill="#1a1a1a"/>
<rect x="135.8" y="472.4" width="1.1" height="40.1" fill="#1a1a1a"/>
<rect x="110.4" y="515.5" width="40.6" height="40.2" fill="#9c9c9c"/>
<rect x="110.4" y="515.5" width="40.6" height="40.2" fill="#fff" filter="url(#nz)" style="mix-blend-mode:normal"/>
<rect x="126.5" y="515.5" width="7.8" height="40.2" fill="#525252"/>
<rect x="126.5" y="515.5" width="1.1" height="40.2" fill="#1a1a1a"/>
<rect x="133.2" y="515.5" width="1.1" height="40.2" fill="#1a1a1a"/>
<text x="20.8" y="449.25" font-size="7.7" text-anchor="middle" stroke="#1a1a1a" stroke-width="0.22" transform="rotate(-90 20.8 449.25)">0 h</text>
<text x="20.8" y="492.45" font-size="7.7" text-anchor="middle" stroke="#1a1a1a" stroke-width="0.22" transform="rotate(-90 20.8 492.45)">24 h</text>
<text x="20.8" y="535.6" font-size="7.7" text-anchor="middle" stroke="#1a1a1a" stroke-width="0.22" transform="rotate(-90 20.8 535.6)">48 h</text>
<rect x="188.8" y="432.5" width="8.6" height="4.2" fill="#e3222c"/>
<text x="200.9" y="436.8" font-size="7.7" stroke="#1a1a1a" stroke-width="0.22">Control</text>
<rect x="188.8" y="440.3" width="8.6" height="4.2" fill="#2a9fd9"/>
<text x="200.9" y="444.6" font-size="7.7" stroke="#1a1a1a" stroke-width="0.22">shCBX8-1</text>
<rect x="188.8" y="448.1" width="8.6" height="4.2" fill="#f4a93b"/>
<text x="200.9" y="452.4" font-size="7.7" stroke="#1a1a1a" stroke-width="0.22">shCBX8-1+siSUSD2</text>
<line x1="185.6" y1="459.8" x2="185.6" y2="542.5" stroke="#484848" stroke-width="0.8"/>
<line x1="185.6" y1="542.5" x2="240" y2="542.5" stroke="#484848" stroke-width="0.8"/>
<line x1="183.3" y1="459.7" x2="185.6" y2="459.7" stroke="#484848" stroke-width="0.7"/>
<text x="181.7" y="462.4" font-size="7.7" text-anchor="end" stroke="#1a1a1a" stroke-width="0.22">60</text>
<line x1="183.3" y1="487.3" x2="185.6" y2="487.3" stroke="#484848" stroke-width="0.7"/>
<text x="181.7" y="490" font-size="7.7" text-anchor="end" stroke="#1a1a1a" stroke-width="0.22">40</text>
<line x1="183.3" y1="514.9" x2="185.6" y2="514.9" stroke="#484848" stroke-width="0.7"/>
<text x="181.7" y="517.6" font-size="7.7" text-anchor="end" stroke="#1a1a1a" stroke-width="0.22">20</text>
<line x1="183.3" y1="542.5" x2="185.6" y2="542.5" stroke="#484848" stroke-width="0.7"/>
<text x="181.7" y="545.2" font-size="7.7" text-anchor="end" stroke="#1a1a1a" stroke-width="0.22">0</text>
<text x="164.6" y="503.3" font-size="7.7" text-anchor="middle" stroke="#1a1a1a" stroke-width="0.22" transform="rotate(-90 164.6 503.3)">Percent wound closure (%)</text>
<rect x="188.5" y="501.1" width="5.4" height="41.4" fill="#e3222c"/>
<line x1="191.2" y1="491.44" x2="191.2" y2="501.1" stroke="#e3222c" stroke-width="0.6"/>
<line x1="189.7" y1="491.44" x2="192.7" y2="491.44" stroke="#e3222c" stroke-width="0.6"/>
<rect x="196.2" y="523.18" width="5.4" height="19.32" fill="#2a9fd9"/>
<line x1="198.9" y1="516.28" x2="198.9" y2="523.18" stroke="#2a9fd9" stroke-width="0.6"/>
<line x1="197.4" y1="516.28" x2="200.4" y2="516.28" stroke="#2a9fd9" stroke-width="0.6"/>
<rect x="204" y="501.1" width="5.4" height="41.4" fill="#f4a93b"/>
<line x1="206.7" y1="491.44" x2="206.7" y2="501.1" stroke="#f4a93b" stroke-width="0.6"/>
<line x1="205.2" y1="491.44" x2="208.2" y2="491.44" stroke="#f4a93b" stroke-width="0.6"/>
<rect x="216.9" y="480.4" width="5.4" height="62.1" fill="#e3222c"/>
<line x1="219.6" y1="476.26" x2="219.6" y2="480.4" stroke="#e3222c" stroke-width="0.6"/>
<line x1="218.1" y1="476.26" x2="221.1" y2="476.26" stroke="#e3222c" stroke-width="0.6"/>
<rect x="225" y="503.86" width="5.4" height="38.64" fill="#2a9fd9"/>
<line x1="227.7" y1="498.34" x2="227.7" y2="503.86" stroke="#2a9fd9" stroke-width="0.6"/>
<line x1="226.2" y1="498.34" x2="229.2" y2="498.34" stroke="#2a9fd9" stroke-width="0.6"/>
<rect x="233" y="480.4" width="5.4" height="62.1" fill="#f4a93b"/>
<line x1="235.7" y1="474.88" x2="235.7" y2="480.4" stroke="#f4a93b" stroke-width="0.6"/>
<line x1="234.2" y1="474.88" x2="237.2" y2="474.88" stroke="#f4a93b" stroke-width="0.6"/>
<line x1="198.9" y1="542.5" x2="198.9" y2="544.5" stroke="#484848" stroke-width="0.6"/>
<text x="203.3" y="549.4" font-size="7.7" text-anchor="end" stroke="#1a1a1a" stroke-width="0.22" transform="rotate(-45 203.3 549.4)">24 h</text>
<line x1="227.6" y1="542.5" x2="227.6" y2="544.5" stroke="#484848" stroke-width="0.6"/>
<text x="232" y="549.4" font-size="7.7" text-anchor="end" stroke="#1a1a1a" stroke-width="0.22" transform="rotate(-45 232 549.4)">48 h</text>
<polyline points="190.5,484.7 190.5,480.7 198.9,480.7 198.9,498.3" fill="none" stroke="#444" stroke-width="0.6"/>
<text x="194.7" y="480.1" font-size="7" text-anchor="middle" font-weight="bold">*</text>
<polyline points="198.6,477.5 198.6,474 207.2,474 207.2,483.9" fill="none" stroke="#444" stroke-width="0.6"/>
<text x="202.9" y="473.4" font-size="7" text-anchor="middle" font-weight="bold">*</text>
<polyline points="219.4,471.9 219.4,468.2 227.5,468.2 227.5,484.7" fill="none" stroke="#444" stroke-width="0.6"/>
<text x="223.45" y="467.6" font-size="7" text-anchor="middle" font-weight="bold">**</text>
<polyline points="227.5,463.8 227.5,459.8 235.5,459.8 235.5,468.6" fill="none" stroke="#444" stroke-width="0.6"/>
<text x="231.5" y="459.2" font-size="7" text-anchor="middle" font-weight="bold">*</text>
<text x="291.6" y="417.7" font-size="13.4" fill="#000" font-weight="bold">J</text>
<line x1="327.4" y1="448" x2="327.4" y2="512.3" stroke="#484848" stroke-width="0.8"/>
<line x1="327.4" y1="512.3" x2="424" y2="512.3" stroke="#484848" stroke-width="0.8"/>
<line x1="325.2" y1="447.9" x2="327.4" y2="447.9" stroke="#484848" stroke-width="0.7"/>
<text x="324.2" y="450.6" font-size="7.7" text-anchor="end" stroke="#1a1a1a" stroke-width="0.22">4.0</text>
<line x1="325.2" y1="469.1" x2="327.4" y2="469.1" stroke="#484848" stroke-width="0.7"/>
<text x="324.2" y="471.8" font-size="7.7" text-anchor="end" stroke="#1a1a1a" stroke-width="0.22">3.5</text>
<line x1="325.2" y1="490.3" x2="327.4" y2="490.3" stroke="#484848" stroke-width="0.7"/>
<text x="324.2" y="493" font-size="7.7" text-anchor="end" stroke="#1a1a1a" stroke-width="0.22">3.0</text>
<line x1="325.2" y1="511.5" x2="327.4" y2="511.5" stroke="#484848" stroke-width="0.7"/>
<text x="324.2" y="514.2" font-size="7.7" text-anchor="end" stroke="#1a1a1a" stroke-width="0.22">2.5</text>
<line x1="328.2" y1="512.3" x2="328.2" y2="514.4" stroke="#484848" stroke-width="0.7"/>
<text x="328.2" y="522.6" font-size="7.7" text-anchor="middle" stroke="#1a1a1a" stroke-width="0.22">2.2</text>
<line x1="351.5" y1="512.3" x2="351.5" y2="514.4" stroke="#484848" stroke-width="0.7"/>
<text x="351.5" y="522.6" font-size="7.7" text-anchor="middle" stroke="#1a1a1a" stroke-width="0.22">2.4</text>
<line x1="374.8" y1="512.3" x2="374.8" y2="514.4" stroke="#484848" stroke-width="0.7"/>
<text x="374.8" y="522.6" font-size="7.7" text-anchor="middle" stroke="#1a1a1a" stroke-width="0.22">2.6</text>
<line x1="398.1" y1="512.3" x2="398.1" y2="514.4" stroke="#484848" stroke-width="0.7"/>
<text x="398.1" y="522.6" font-size="7.7" text-anchor="middle" stroke="#1a1a1a" stroke-width="0.22">2.8</text>
<line x1="421.4" y1="512.3" x2="421.4" y2="514.4" stroke="#484848" stroke-width="0.7"/>
<text x="421.4" y="522.6" font-size="7.7" text-anchor="middle" stroke="#1a1a1a" stroke-width="0.22">3.0</text>
<text x="374.6" y="533.7" font-size="7.7" text-anchor="middle" stroke="#1a1a1a" stroke-width="0.22">Relative expression of CBX8</text>
<text x="303.2" y="480" font-size="7.7" text-anchor="middle" stroke="#1a1a1a" stroke-width="0.22" transform="rotate(-90 303.2 480)">Relative expression of SUSD2</text>
<text x="433.4" y="448.3" font-size="7.7" text-anchor="end" stroke="#1a1a1a" stroke-width="0.22"><tspan font-style="italic">R</tspan> = −0.396</text>
<text x="429.2" y="455.1" font-size="7.7" text-anchor="end" stroke="#1a1a1a" stroke-width="0.22"><tspan font-style="italic">P</tspan> = 0.002</text>
<circle cx="351.73" cy="466.02" r="0.85" fill="#1a1a1a"/>
<circle cx="363.37" cy="470.04" r="0.85" fill="#1a1a1a"/>
<circle cx="367.6" cy="470.04" r="0.85" fill="#1a1a1a"/>
<circle cx="371.83" cy="471.1" r="0.85" fill="#1a1a1a"/>
<circle cx="376.06" cy="471.73" r="0.85" fill="#1a1a1a"/>
<circle cx="380.29" cy="467.5" r="0.85" fill="#1a1a1a"/>
<circle cx="381.98" cy="463.69" r="0.85" fill="#1a1a1a"/>
<circle cx="383.47" cy="462.85" r="0.85" fill="#1a1a1a"/>
<circle cx="384.1" cy="465.39" r="0.85" fill="#1a1a1a"/>
<circle cx="385.58" cy="471.31" r="0.85" fill="#1a1a1a"/>
<circle cx="387.27" cy="472.16" r="0.85" fill="#1a1a1a"/>
<circle cx="394.04" cy="467.5" r="0.85" fill="#1a1a1a"/>
<circle cx="394.47" cy="471.73" r="0.85" fill="#1a1a1a"/>
<circle cx="398.7" cy="468.14" r="0.85" fill="#1a1a1a"/>
<circle cx="392.98" cy="473.85" r="0.85" fill="#1a1a1a"/>
<circle cx="389.81" cy="474.91" r="0.85" fill="#1a1a1a"/>
<circle cx="390.87" cy="475.54" r="0.85" fill="#1a1a1a"/>
<circle cx="396.16" cy="473.43" r="0.85" fill="#1a1a1a"/>
<circle cx="367.6" cy="477.02" r="0.85" fill="#1a1a1a"/>
<circle cx="370.77" cy="480.19" r="0.85" fill="#1a1a1a"/>
<circle cx="373.95" cy="474.91" r="0.85" fill="#1a1a1a"/>
<circle cx="375.43" cy="478.08" r="0.85" fill="#1a1a1a"/>
<circle cx="377.12" cy="481.25" r="0.85" fill="#1a1a1a"/>
<circle cx="378.18" cy="485.48" r="0.85" fill="#1a1a1a"/>
<circle cx="380.29" cy="486.54" r="0.85" fill="#1a1a1a"/>
<circle cx="382.41" cy="479.14" r="0.85" fill="#1a1a1a"/>
<circle cx="383.04" cy="480.19" r="0.85" fill="#1a1a1a"/>
<circle cx="384.52" cy="487.6" r="0.85" fill="#1a1a1a"/>
<circle cx="386.64" cy="487.6" r="0.85" fill="#1a1a1a"/>
<circle cx="389.81" cy="484.43" r="0.85" fill="#1a1a1a"/>
<circle cx="392.98" cy="485.48" r="0.85" fill="#1a1a1a"/>
<circle cx="394.04" cy="485.48" r="0.85" fill="#1a1a1a"/>
<circle cx="397.22" cy="478.5" r="0.85" fill="#1a1a1a"/>
<circle cx="400.39" cy="484.43" r="0.85" fill="#1a1a1a"/>
<circle cx="401.45" cy="491.83" r="0.85" fill="#1a1a1a"/>
<circle cx="403.56" cy="492.89" r="0.85" fill="#1a1a1a"/>
<circle cx="405.68" cy="488.66" r="0.85" fill="#1a1a1a"/>
<circle cx="367.6" cy="483.37" r="0.85" fill="#1a1a1a"/>
<circle cx="372.89" cy="488.66" r="0.85" fill="#1a1a1a"/>
<circle cx="379.23" cy="493.95" r="0.85" fill="#1a1a1a"/>
<circle cx="378.18" cy="497.12" r="0.85" fill="#1a1a1a"/>
<circle cx="381.35" cy="489.71" r="0.85" fill="#1a1a1a"/>
<circle cx="392.98" cy="496.06" r="0.85" fill="#1a1a1a"/>
<circle cx="394.04" cy="499.23" r="0.85" fill="#1a1a1a"/>
<circle cx="391.93" cy="503.47" r="0.85" fill="#1a1a1a"/>
<circle cx="396.16" cy="505.58" r="0.85" fill="#1a1a1a"/>
<circle cx="406.74" cy="499.87" r="0.85" fill="#1a1a1a"/>
<circle cx="419.01" cy="498.18" r="0.85" fill="#1a1a1a"/>
<circle cx="417.31" cy="506.64" r="0.85" fill="#1a1a1a"/>
<circle cx="367.6" cy="497.12" r="0.85" fill="#1a1a1a"/>
<circle cx="383.47" cy="478.08" r="0.85" fill="#1a1a1a"/>
<circle cx="387.7" cy="473.85" r="0.85" fill="#1a1a1a"/>
<circle cx="377.12" cy="488.66" r="0.85" fill="#1a1a1a"/>
<circle cx="375" cy="484.43" r="0.85" fill="#1a1a1a"/>
<line x1="352.2" y1="471.1" x2="419" y2="494" stroke="#3b4aa0" stroke-width="0.9"/>
</svg>
</body></html>
